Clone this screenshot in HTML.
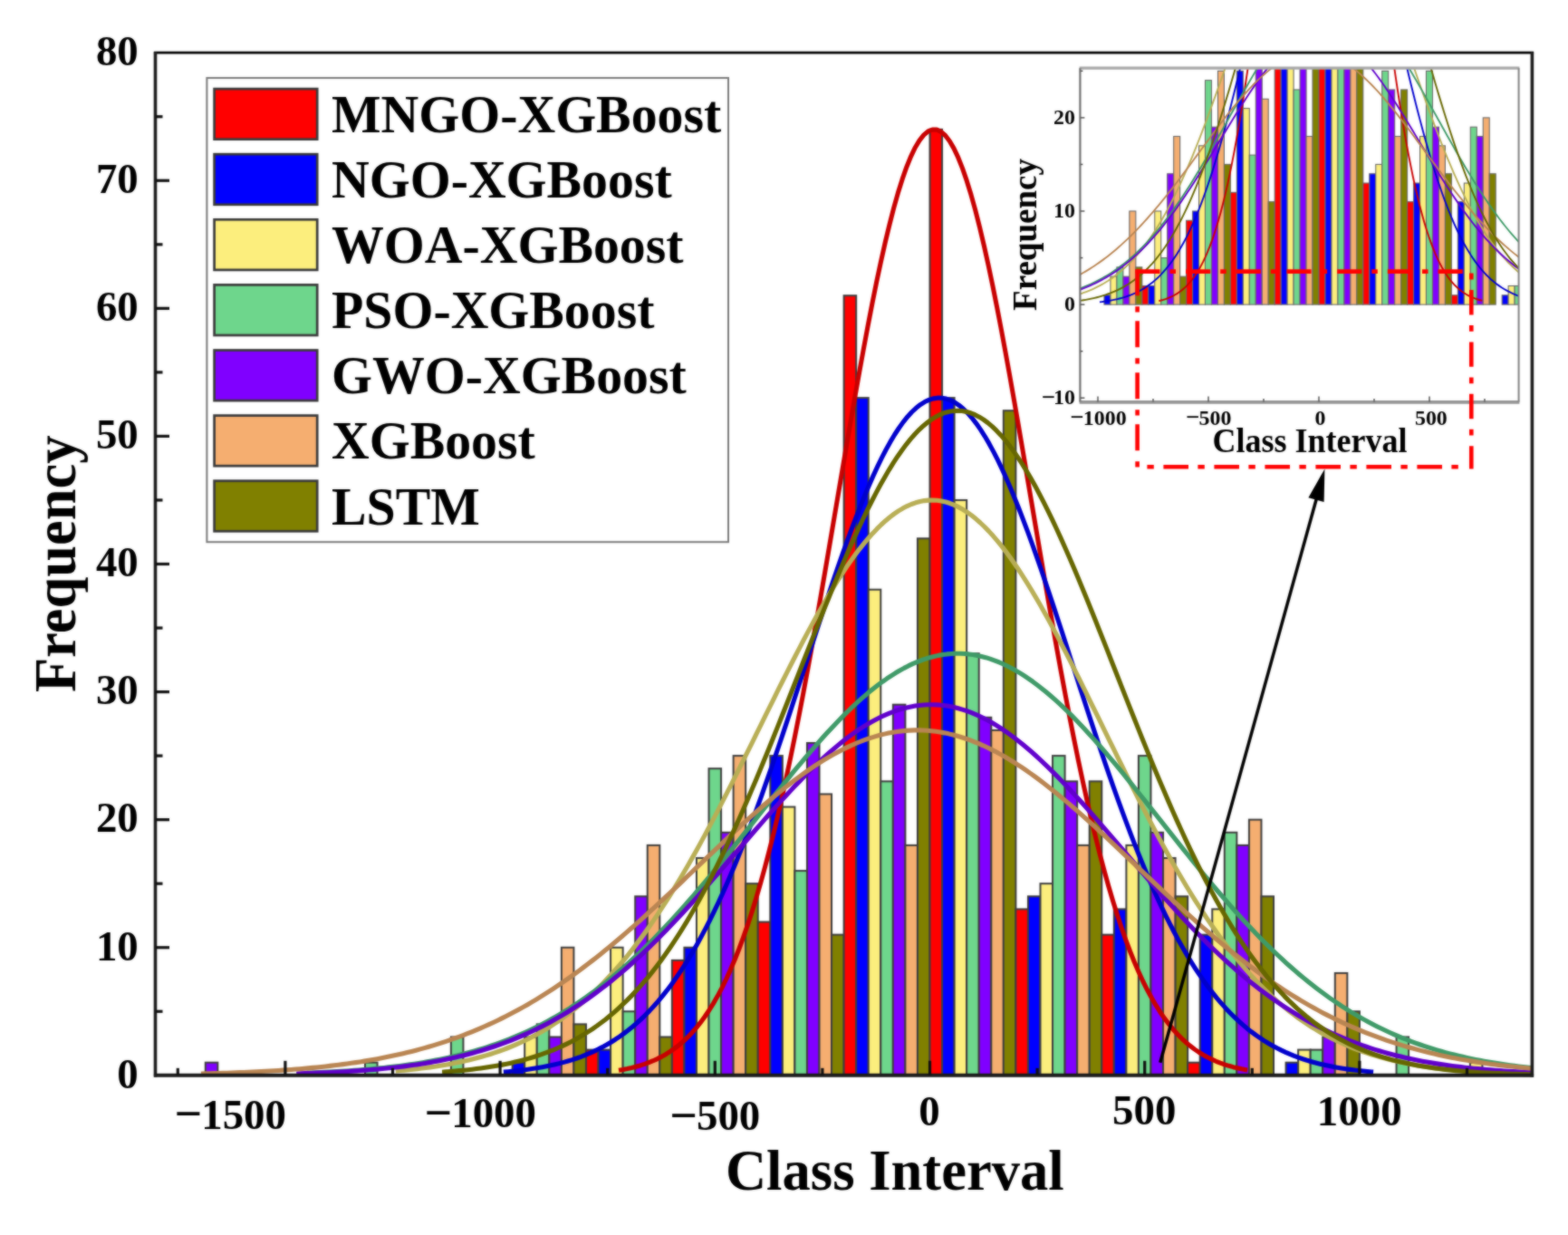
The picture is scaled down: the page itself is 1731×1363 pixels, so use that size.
<!DOCTYPE html>
<html lang="en"><head><meta charset="utf-8"><title>Frequency histogram of class intervals</title>
<style>
html,body{margin:0;padding:0;background:#fff;}
body{width:1731px;height:1363px;overflow:hidden;}
svg{display:block;}
text{font-family:"Liberation Serif",serif;font-weight:bold;fill:#000;}
</style></head><body>
<svg width="1731" height="1363" viewBox="0 0 1731 1363">
<defs>
<filter id="soft" x="-2%" y="-2%" width="104%" height="104%" color-interpolation-filters="sRGB"><feGaussianBlur in="SourceGraphic" stdDeviation="0.8" result="b"/><feComposite in="SourceGraphic" in2="b" operator="arithmetic" k1="0" k2="0.4" k3="0.6" k4="0"/></filter>
<clipPath id="mainclip"><rect x="171.5" y="58.2" width="1521.4" height="1130.6"/></clipPath>
<clipPath id="insclip"><rect x="1192.4" y="75.2" width="484.2" height="368.4"/></clipPath>
</defs>
<g id="figure" filter="url(#soft)">
<rect x="-20" y="-20" width="1771" height="1403" fill="#ffffff"/>

<g id="bars" stroke-linejoin="miter">
<rect x="226.80" y="1172.69" width="13.55" height="14.11" fill="#8000FF" stroke="#3e3e3e" stroke-width="2.0"/>
<rect x="403.00" y="1172.69" width="13.55" height="14.11" fill="#6ED68C" stroke="#3e3e3e" stroke-width="2.0"/>
<rect x="497.88" y="1144.48" width="13.55" height="42.32" fill="#6ED68C" stroke="#3e3e3e" stroke-width="2.0"/>
<rect x="565.65" y="1172.69" width="13.55" height="14.11" fill="#0000FF" stroke="#3e3e3e" stroke-width="2.0"/>
<rect x="579.21" y="1144.48" width="13.55" height="42.32" fill="#FCEE7D" stroke="#3e3e3e" stroke-width="2.0"/>
<rect x="592.76" y="1130.37" width="13.55" height="56.43" fill="#6ED68C" stroke="#3e3e3e" stroke-width="2.0"/>
<rect x="606.32" y="1144.48" width="13.55" height="42.32" fill="#8000FF" stroke="#3e3e3e" stroke-width="2.0"/>
<rect x="619.87" y="1045.72" width="13.55" height="141.08" fill="#F5AE70" stroke="#3e3e3e" stroke-width="2.0"/>
<rect x="633.43" y="1130.37" width="13.55" height="56.43" fill="#808000" stroke="#3e3e3e" stroke-width="2.0"/>
<rect x="646.98" y="1158.59" width="13.55" height="28.21" fill="#FF0000" stroke="#3e3e3e" stroke-width="2.0"/>
<rect x="660.53" y="1158.59" width="13.55" height="28.21" fill="#0000FF" stroke="#3e3e3e" stroke-width="2.0"/>
<rect x="674.09" y="1045.72" width="13.55" height="141.08" fill="#FCEE7D" stroke="#3e3e3e" stroke-width="2.0"/>
<rect x="687.64" y="1116.26" width="13.55" height="70.54" fill="#6ED68C" stroke="#3e3e3e" stroke-width="2.0"/>
<rect x="701.20" y="989.29" width="13.55" height="197.50" fill="#8000FF" stroke="#3e3e3e" stroke-width="2.0"/>
<rect x="714.75" y="932.87" width="13.55" height="253.93" fill="#F5AE70" stroke="#3e3e3e" stroke-width="2.0"/>
<rect x="728.31" y="1144.48" width="13.55" height="42.32" fill="#808000" stroke="#3e3e3e" stroke-width="2.0"/>
<rect x="741.86" y="1059.83" width="13.55" height="126.97" fill="#FF0000" stroke="#3e3e3e" stroke-width="2.0"/>
<rect x="755.41" y="1045.72" width="13.55" height="141.08" fill="#0000FF" stroke="#3e3e3e" stroke-width="2.0"/>
<rect x="768.97" y="946.97" width="13.55" height="239.83" fill="#FCEE7D" stroke="#3e3e3e" stroke-width="2.0"/>
<rect x="782.52" y="848.22" width="13.55" height="338.58" fill="#6ED68C" stroke="#3e3e3e" stroke-width="2.0"/>
<rect x="796.08" y="918.76" width="13.55" height="268.04" fill="#8000FF" stroke="#3e3e3e" stroke-width="2.0"/>
<rect x="809.63" y="834.11" width="13.55" height="352.69" fill="#F5AE70" stroke="#3e3e3e" stroke-width="2.0"/>
<rect x="823.19" y="975.19" width="13.55" height="211.61" fill="#808000" stroke="#3e3e3e" stroke-width="2.0"/>
<rect x="836.74" y="1017.51" width="13.55" height="169.29" fill="#FF0000" stroke="#3e3e3e" stroke-width="2.0"/>
<rect x="850.29" y="834.11" width="13.55" height="352.69" fill="#0000FF" stroke="#3e3e3e" stroke-width="2.0"/>
<rect x="863.85" y="890.54" width="13.55" height="296.26" fill="#FCEE7D" stroke="#3e3e3e" stroke-width="2.0"/>
<rect x="877.40" y="961.08" width="13.55" height="225.72" fill="#6ED68C" stroke="#3e3e3e" stroke-width="2.0"/>
<rect x="890.96" y="820.00" width="13.55" height="366.79" fill="#8000FF" stroke="#3e3e3e" stroke-width="2.0"/>
<rect x="904.51" y="876.43" width="13.55" height="310.37" fill="#F5AE70" stroke="#3e3e3e" stroke-width="2.0"/>
<rect x="918.07" y="1031.62" width="13.55" height="155.18" fill="#808000" stroke="#3e3e3e" stroke-width="2.0"/>
<rect x="931.62" y="326.24" width="13.55" height="860.56" fill="#FF0000" stroke="#3e3e3e" stroke-width="2.0"/>
<rect x="945.17" y="439.10" width="13.55" height="747.70" fill="#0000FF" stroke="#3e3e3e" stroke-width="2.0"/>
<rect x="958.73" y="650.72" width="13.55" height="536.08" fill="#FCEE7D" stroke="#3e3e3e" stroke-width="2.0"/>
<rect x="972.28" y="862.33" width="13.55" height="324.47" fill="#6ED68C" stroke="#3e3e3e" stroke-width="2.0"/>
<rect x="985.84" y="777.68" width="13.55" height="409.12" fill="#8000FF" stroke="#3e3e3e" stroke-width="2.0"/>
<rect x="999.39" y="932.87" width="13.55" height="253.93" fill="#F5AE70" stroke="#3e3e3e" stroke-width="2.0"/>
<rect x="1012.95" y="594.29" width="13.55" height="592.51" fill="#808000" stroke="#3e3e3e" stroke-width="2.0"/>
<rect x="1026.50" y="142.85" width="13.55" height="1043.95" fill="#FF0000" stroke="#3e3e3e" stroke-width="2.0"/>
<rect x="1040.05" y="439.10" width="13.55" height="747.70" fill="#0000FF" stroke="#3e3e3e" stroke-width="2.0"/>
<rect x="1053.61" y="551.96" width="13.55" height="634.84" fill="#FCEE7D" stroke="#3e3e3e" stroke-width="2.0"/>
<rect x="1067.16" y="721.25" width="13.55" height="465.55" fill="#6ED68C" stroke="#3e3e3e" stroke-width="2.0"/>
<rect x="1080.72" y="791.79" width="13.55" height="395.01" fill="#8000FF" stroke="#3e3e3e" stroke-width="2.0"/>
<rect x="1094.27" y="805.90" width="13.55" height="380.90" fill="#F5AE70" stroke="#3e3e3e" stroke-width="2.0"/>
<rect x="1107.83" y="453.21" width="13.55" height="733.59" fill="#808000" stroke="#3e3e3e" stroke-width="2.0"/>
<rect x="1121.38" y="1003.40" width="13.55" height="183.40" fill="#FF0000" stroke="#3e3e3e" stroke-width="2.0"/>
<rect x="1134.93" y="989.29" width="13.55" height="197.50" fill="#0000FF" stroke="#3e3e3e" stroke-width="2.0"/>
<rect x="1148.49" y="975.19" width="13.55" height="211.61" fill="#FCEE7D" stroke="#3e3e3e" stroke-width="2.0"/>
<rect x="1162.04" y="834.11" width="13.55" height="352.69" fill="#6ED68C" stroke="#3e3e3e" stroke-width="2.0"/>
<rect x="1175.60" y="862.33" width="13.55" height="324.47" fill="#8000FF" stroke="#3e3e3e" stroke-width="2.0"/>
<rect x="1189.15" y="932.87" width="13.55" height="253.93" fill="#F5AE70" stroke="#3e3e3e" stroke-width="2.0"/>
<rect x="1202.71" y="862.33" width="13.55" height="324.47" fill="#808000" stroke="#3e3e3e" stroke-width="2.0"/>
<rect x="1216.26" y="1031.62" width="13.55" height="155.18" fill="#FF0000" stroke="#3e3e3e" stroke-width="2.0"/>
<rect x="1229.81" y="1003.40" width="13.55" height="183.40" fill="#0000FF" stroke="#3e3e3e" stroke-width="2.0"/>
<rect x="1243.37" y="932.87" width="13.55" height="253.93" fill="#FCEE7D" stroke="#3e3e3e" stroke-width="2.0"/>
<rect x="1256.92" y="834.11" width="13.55" height="352.69" fill="#6ED68C" stroke="#3e3e3e" stroke-width="2.0"/>
<rect x="1270.48" y="918.76" width="13.55" height="268.04" fill="#8000FF" stroke="#3e3e3e" stroke-width="2.0"/>
<rect x="1284.03" y="946.97" width="13.55" height="239.83" fill="#F5AE70" stroke="#3e3e3e" stroke-width="2.0"/>
<rect x="1297.59" y="989.29" width="13.55" height="197.50" fill="#808000" stroke="#3e3e3e" stroke-width="2.0"/>
<rect x="1311.14" y="1172.69" width="13.55" height="14.11" fill="#FF0000" stroke="#3e3e3e" stroke-width="2.0"/>
<rect x="1324.69" y="1031.62" width="13.55" height="155.18" fill="#0000FF" stroke="#3e3e3e" stroke-width="2.0"/>
<rect x="1338.25" y="1003.40" width="13.55" height="183.40" fill="#FCEE7D" stroke="#3e3e3e" stroke-width="2.0"/>
<rect x="1351.80" y="918.76" width="13.55" height="268.04" fill="#6ED68C" stroke="#3e3e3e" stroke-width="2.0"/>
<rect x="1365.36" y="932.87" width="13.55" height="253.93" fill="#8000FF" stroke="#3e3e3e" stroke-width="2.0"/>
<rect x="1378.91" y="904.65" width="13.55" height="282.15" fill="#F5AE70" stroke="#3e3e3e" stroke-width="2.0"/>
<rect x="1392.47" y="989.29" width="13.55" height="197.50" fill="#808000" stroke="#3e3e3e" stroke-width="2.0"/>
<rect x="1419.57" y="1172.69" width="13.55" height="14.11" fill="#0000FF" stroke="#3e3e3e" stroke-width="2.0"/>
<rect x="1433.13" y="1158.59" width="13.55" height="28.21" fill="#FCEE7D" stroke="#3e3e3e" stroke-width="2.0"/>
<rect x="1446.68" y="1158.59" width="13.55" height="28.21" fill="#6ED68C" stroke="#3e3e3e" stroke-width="2.0"/>
<rect x="1460.24" y="1144.48" width="13.55" height="42.32" fill="#8000FF" stroke="#3e3e3e" stroke-width="2.0"/>
<rect x="1473.79" y="1073.94" width="13.55" height="112.86" fill="#F5AE70" stroke="#3e3e3e" stroke-width="2.0"/>
<rect x="1487.35" y="1116.26" width="13.55" height="70.54" fill="#808000" stroke="#3e3e3e" stroke-width="2.0"/>
<rect x="1541.56" y="1144.48" width="13.55" height="42.32" fill="#6ED68C" stroke="#3e3e3e" stroke-width="2.0"/>
<rect x="1622.89" y="1172.69" width="13.55" height="14.11" fill="#FCEE7D" stroke="#3e3e3e" stroke-width="2.0"/>
</g>
<g id="curves" fill="none" stroke-width="5.1" stroke-linecap="butt" stroke-linejoin="round" clip-path="url(#mainclip)">
<path d="M683.03,1181.36 L687.78,1180.53 L692.52,1179.58 L697.27,1178.51 L702.01,1177.30 L706.75,1175.93 L711.50,1174.40 L716.24,1172.67 L720.99,1170.73 L725.73,1168.56 L730.47,1166.14 L735.22,1163.44 L739.96,1160.44 L744.71,1157.12 L749.45,1153.44 L754.19,1149.38 L758.94,1144.90 L763.68,1139.99 L768.43,1134.59 L773.17,1128.69 L777.91,1122.25 L782.66,1115.23 L787.40,1107.61 L792.15,1099.34 L796.89,1090.40 L801.63,1080.75 L806.38,1070.36 L811.12,1059.21 L815.87,1047.25 L820.61,1034.48 L825.35,1020.86 L830.10,1006.37 L834.84,991.00 L839.59,974.74 L844.33,957.57 L849.07,939.49 L853.82,920.51 L858.56,900.62 L863.31,879.86 L868.05,858.22 L872.79,835.75 L877.54,812.47 L882.28,788.43 L887.03,763.66 L891.77,738.23 L896.51,712.20 L901.26,685.64 L906.00,658.62 L910.75,631.22 L915.49,603.55 L920.23,575.69 L924.98,547.74 L929.72,519.82 L934.47,492.03 L939.21,464.49 L943.95,437.33 L948.70,410.66 L953.44,384.60 L958.19,359.28 L962.93,334.83 L967.67,311.36 L972.42,289.00 L977.16,267.86 L981.91,248.05 L986.65,229.69 L991.39,212.86 L996.14,197.67 L1000.88,184.20 L1005.63,172.53 L1010.37,162.71 L1015.11,154.82 L1019.86,148.88 L1024.60,144.95 L1029.35,143.04 L1034.09,143.17 L1038.83,145.33 L1043.58,149.52 L1048.32,155.72 L1053.07,163.88 L1057.81,173.96 L1062.55,185.91 L1067.30,199.65 L1072.04,215.11 L1076.79,232.19 L1081.53,250.81 L1086.27,270.86 L1091.02,292.23 L1095.76,314.82 L1100.51,338.49 L1105.25,363.14 L1109.99,388.64 L1114.74,414.85 L1119.48,441.67 L1124.23,468.97 L1128.97,496.61 L1133.71,524.49 L1138.46,552.49 L1143.20,580.49 L1147.95,608.39 L1152.69,636.08 L1157.43,663.48 L1162.18,690.48 L1166.92,717.01 L1171.67,742.99 L1176.41,768.36 L1181.15,793.05 L1185.90,817.00 L1190.64,840.18 L1195.39,862.54 L1200.13,884.05 L1204.87,904.69 L1209.62,924.43 L1214.36,943.27 L1219.11,961.20 L1223.85,978.22 L1228.59,994.33 L1233.34,1009.55 L1238.08,1023.88 L1242.83,1037.34 L1247.57,1049.96 L1252.31,1061.76 L1257.06,1072.77 L1261.80,1083.01 L1266.55,1092.52 L1271.29,1101.32 L1276.03,1109.45 L1280.78,1116.95 L1285.52,1123.84 L1290.27,1130.16 L1295.01,1135.95 L1299.75,1141.24 L1304.50,1146.05 L1309.24,1150.43 L1313.99,1154.40 L1318.73,1158.00 L1323.47,1161.24 L1328.22,1164.17 L1332.96,1166.79 L1337.71,1169.15 L1342.45,1171.26 L1347.19,1173.15 L1351.94,1174.83 L1356.68,1176.32 L1361.43,1177.65 L1366.17,1178.82 L1370.91,1179.86 L1375.66,1180.77 L1377.08,1181.02" stroke="#C80000"/>
<path d="M555.90,1183.12 L560.64,1182.72 L565.38,1182.28 L570.13,1181.79 L574.87,1181.26 L579.62,1180.67 L584.36,1180.03 L589.10,1179.33 L593.85,1178.57 L598.59,1177.74 L603.34,1176.84 L608.08,1175.86 L612.82,1174.79 L617.57,1173.64 L622.31,1172.39 L627.06,1171.03 L631.80,1169.57 L636.54,1167.99 L641.29,1166.28 L646.03,1164.45 L650.78,1162.47 L655.52,1160.35 L660.26,1158.07 L665.01,1155.63 L669.75,1153.01 L674.50,1150.22 L679.24,1147.23 L683.98,1144.04 L688.73,1140.65 L693.47,1137.04 L698.22,1133.20 L702.96,1129.12 L707.70,1124.80 L712.45,1120.22 L717.19,1115.38 L721.94,1110.26 L726.68,1104.87 L731.42,1099.18 L736.17,1093.20 L740.91,1086.91 L745.66,1080.30 L750.40,1073.38 L755.14,1066.14 L759.89,1058.56 L764.63,1050.65 L769.38,1042.40 L774.12,1033.81 L778.86,1024.87 L783.61,1015.59 L788.35,1005.97 L793.10,996.00 L797.84,985.69 L802.58,975.04 L807.33,964.06 L812.07,952.75 L816.82,941.12 L821.56,929.18 L826.30,916.94 L831.05,904.41 L835.79,891.60 L840.54,878.53 L845.28,865.22 L850.02,851.67 L854.77,837.92 L859.51,823.98 L864.26,809.87 L869.00,795.62 L873.74,781.24 L878.49,766.78 L883.23,752.24 L887.98,737.67 L892.72,723.09 L897.46,708.53 L902.21,694.03 L906.95,679.61 L911.70,665.30 L916.44,651.15 L921.18,637.18 L925.93,623.43 L930.67,609.93 L935.42,596.72 L940.16,583.83 L944.90,571.30 L949.65,559.15 L954.39,547.43 L959.14,536.16 L963.88,525.37 L968.62,515.11 L973.37,505.38 L978.11,496.23 L982.86,487.68 L987.60,479.76 L992.34,472.49 L997.09,465.88 L1001.83,459.97 L1006.58,454.77 L1011.32,450.29 L1016.06,446.55 L1020.81,443.56 L1025.55,441.33 L1030.30,439.86 L1035.04,439.16 L1039.78,439.24 L1044.53,440.10 L1049.27,441.73 L1054.02,444.13 L1058.76,447.29 L1063.50,451.20 L1068.25,455.86 L1072.99,461.24 L1077.74,467.33 L1082.48,474.11 L1087.22,481.56 L1091.97,489.66 L1096.71,498.38 L1101.46,507.70 L1106.20,517.59 L1110.94,528.03 L1115.69,538.97 L1120.43,550.40 L1125.18,562.27 L1129.92,574.56 L1134.66,587.23 L1139.41,600.25 L1144.15,613.59 L1148.90,627.20 L1153.64,641.06 L1158.38,655.13 L1163.13,669.38 L1167.87,683.76 L1172.62,698.26 L1177.36,712.83 L1182.10,727.45 L1186.85,742.07 L1191.59,756.68 L1196.34,771.25 L1201.08,785.73 L1205.82,800.12 L1210.57,814.37 L1215.31,828.48 L1220.06,842.41 L1224.80,856.14 L1229.54,869.65 L1234.29,882.93 L1239.03,895.95 L1243.78,908.71 L1248.52,921.18 L1253.26,933.36 L1258.01,945.23 L1262.75,956.79 L1267.50,968.01 L1272.24,978.91 L1276.98,989.47 L1281.73,999.69 L1286.47,1009.56 L1291.22,1019.09 L1295.96,1028.27 L1300.70,1037.11 L1305.45,1045.59 L1310.19,1053.74 L1314.94,1061.55 L1319.68,1069.02 L1324.42,1076.16 L1329.17,1082.97 L1333.91,1089.47 L1338.66,1095.66 L1343.40,1101.54 L1348.14,1107.12 L1352.89,1112.42 L1357.63,1117.43 L1362.38,1122.18 L1367.12,1126.66 L1371.86,1130.89 L1376.61,1134.88 L1381.35,1138.63 L1386.10,1142.16 L1390.84,1145.47 L1395.58,1148.58 L1400.33,1151.49 L1405.07,1154.21 L1409.82,1156.76 L1414.56,1159.13 L1419.30,1161.34 L1424.05,1163.40 L1428.79,1165.32 L1433.54,1167.10 L1438.28,1168.75 L1443.02,1170.28 L1447.77,1171.69 L1452.51,1173.00 L1457.26,1174.21 L1462.00,1175.33 L1466.74,1176.35 L1471.49,1177.30 L1476.23,1178.17 L1480.98,1178.96 L1485.72,1179.69 L1490.46,1180.36 L1495.21,1180.98 L1499.95,1181.54 L1504.70,1182.05 L1509.44,1182.51 L1514.18,1182.94 L1516.08,1183.10" stroke="#0000CC"/>
<path d="M436.82,1181.92 L441.56,1181.52 L446.31,1181.10 L451.05,1180.64 L455.80,1180.16 L460.54,1179.64 L465.28,1179.09 L470.03,1178.50 L474.77,1177.86 L479.52,1177.19 L484.26,1176.47 L489.00,1175.71 L493.75,1174.89 L498.49,1174.03 L503.24,1173.11 L507.98,1172.13 L512.72,1171.09 L517.47,1169.99 L522.21,1168.83 L526.96,1167.59 L531.70,1166.28 L536.44,1164.90 L541.19,1163.44 L545.93,1161.90 L550.68,1160.27 L555.42,1158.56 L560.16,1156.75 L564.91,1154.84 L569.65,1152.84 L574.40,1150.73 L579.14,1148.52 L583.88,1146.20 L588.63,1143.76 L593.37,1141.20 L598.12,1138.52 L602.86,1135.72 L607.60,1132.79 L612.35,1129.73 L617.09,1126.52 L621.84,1123.18 L626.58,1119.70 L631.32,1116.07 L636.07,1112.29 L640.81,1108.36 L645.56,1104.27 L650.30,1100.02 L655.04,1095.61 L659.79,1091.04 L664.53,1086.30 L669.28,1081.39 L674.02,1076.31 L678.76,1071.06 L683.51,1065.63 L688.25,1060.03 L693.00,1054.26 L697.74,1048.30 L702.48,1042.17 L707.23,1035.86 L711.97,1029.38 L716.72,1022.72 L721.46,1015.88 L726.20,1008.88 L730.95,1001.70 L735.69,994.35 L740.44,986.83 L745.18,979.15 L749.92,971.31 L754.67,963.31 L759.41,955.16 L764.16,946.87 L768.90,938.43 L773.64,929.86 L778.39,921.15 L783.13,912.33 L787.88,903.38 L792.62,894.33 L797.36,885.18 L802.11,875.94 L806.85,866.61 L811.60,857.21 L816.34,847.74 L821.08,838.22 L825.83,828.66 L830.57,819.07 L835.32,809.45 L840.06,799.83 L844.80,790.20 L849.55,780.60 L854.29,771.01 L859.04,761.47 L863.78,751.99 L868.52,742.56 L873.27,733.22 L878.01,723.97 L882.76,714.83 L887.50,705.81 L892.24,696.92 L896.99,688.17 L901.73,679.59 L906.48,671.19 L911.22,662.97 L915.96,654.95 L920.71,647.15 L925.45,639.58 L930.20,632.24 L934.94,625.16 L939.68,618.35 L944.43,611.81 L949.17,605.56 L953.92,599.61 L958.66,593.96 L963.40,588.64 L968.15,583.65 L972.89,578.99 L977.64,574.69 L982.38,570.73 L987.12,567.14 L991.87,563.92 L996.61,561.07 L1001.36,558.60 L1006.10,556.52 L1010.84,554.82 L1015.59,553.52 L1020.33,552.60 L1025.08,552.09 L1029.82,551.97 L1034.56,552.25 L1039.31,552.94 L1044.05,554.02 L1048.80,555.51 L1053.54,557.38 L1058.28,559.66 L1063.03,562.32 L1067.77,565.36 L1072.52,568.78 L1077.26,572.57 L1082.00,576.73 L1086.75,581.24 L1091.49,586.10 L1096.24,591.30 L1100.98,596.83 L1105.72,602.68 L1110.47,608.83 L1115.21,615.29 L1119.96,622.03 L1124.70,629.04 L1129.44,636.32 L1134.19,643.85 L1138.93,651.61 L1143.68,659.60 L1148.42,667.80 L1153.16,676.19 L1157.91,684.77 L1162.65,693.52 L1167.40,702.42 L1172.14,711.46 L1176.88,720.63 L1181.63,729.91 L1186.37,739.29 L1191.12,748.76 L1195.86,758.30 L1200.60,767.90 L1205.35,777.54 L1210.09,787.21 L1214.84,796.90 L1219.58,806.60 L1224.32,816.29 L1229.07,825.97 L1233.81,835.61 L1238.56,845.22 L1243.30,854.77 L1248.04,864.26 L1252.79,873.67 L1257.53,883.01 L1262.28,892.25 L1267.02,901.39 L1271.76,910.43 L1276.51,919.35 L1281.25,928.14 L1286.00,936.81 L1290.74,945.34 L1295.48,953.72 L1300.23,961.96 L1304.97,970.04 L1309.72,977.96 L1314.46,985.73 L1319.20,993.32 L1323.95,1000.75 L1328.69,1008.01 L1333.44,1015.09 L1338.18,1021.99 L1342.92,1028.72 L1347.67,1035.27 L1352.41,1041.64 L1357.16,1047.84 L1361.90,1053.85 L1366.64,1059.68 L1371.39,1065.33 L1376.13,1070.81 L1380.88,1076.11 L1385.62,1081.23 L1390.36,1086.18 L1395.11,1090.96 L1399.85,1095.57 L1404.60,1100.02 L1409.34,1104.29 L1414.08,1108.41 L1418.83,1112.37 L1423.57,1116.18 L1428.32,1119.83 L1433.06,1123.33 L1437.80,1126.69 L1442.55,1129.91 L1447.29,1132.99 L1452.04,1135.93 L1456.78,1138.75 L1461.52,1141.44 L1466.27,1144.00 L1471.01,1146.44 L1475.76,1148.77 L1480.50,1150.99 L1485.24,1153.10 L1489.99,1155.11 L1494.73,1157.01 L1499.48,1158.82 L1504.22,1160.53 L1508.96,1162.16 L1513.71,1163.70 L1518.45,1165.16 L1523.20,1166.54 L1527.94,1167.84 L1532.68,1169.07 L1537.43,1170.23 L1542.17,1171.32 L1546.92,1172.35 L1551.66,1173.33 L1556.40,1174.24 L1561.15,1175.10 L1565.89,1175.91 L1570.64,1176.66 L1575.38,1177.38 L1580.12,1178.04 L1584.87,1178.67 L1589.61,1179.25 L1594.36,1179.80 L1599.10,1180.31 L1603.84,1180.79 L1608.59,1181.24 L1613.33,1181.65 L1618.08,1182.04 L1622.82,1182.40 L1627.56,1182.74 L1632.31,1183.05 L1637.05,1183.35 L1641.80,1183.62 L1646.54,1183.87 L1651.28,1184.10 L1656.03,1184.32 L1660.77,1184.52 L1665.52,1184.70 L1670.26,1184.88 L1675.00,1185.03 L1679.75,1185.18 L1684.49,1185.32 L1689.24,1185.44 L1693.98,1185.56 L1698.72,1185.66 L1703.47,1185.76 L1708.21,1185.85 L1712.96,1185.93 L1717.70,1186.01 L1722.44,1186.08 L1727.19,1186.14 L1731.93,1186.20 L1736.68,1186.26 L1738.10,1186.27" stroke="#B8AE55"/>
<path d="M338.62,1184.16 L343.36,1183.98 L348.11,1183.78 L352.85,1183.57 L357.60,1183.35 L362.34,1183.11 L367.08,1182.86 L371.83,1182.59 L376.57,1182.31 L381.32,1182.01 L386.06,1181.69 L390.80,1181.36 L395.55,1181.00 L400.29,1180.63 L405.04,1180.23 L409.78,1179.82 L414.52,1179.37 L419.27,1178.91 L424.01,1178.42 L428.76,1177.90 L433.50,1177.35 L438.24,1176.78 L442.99,1176.17 L447.73,1175.54 L452.48,1174.87 L457.22,1174.16 L461.96,1173.43 L466.71,1172.65 L471.45,1171.84 L476.20,1170.98 L480.94,1170.09 L485.68,1169.15 L490.43,1168.17 L495.17,1167.15 L499.92,1166.07 L504.66,1164.95 L509.40,1163.78 L514.15,1162.55 L518.89,1161.27 L523.64,1159.94 L528.38,1158.55 L533.12,1157.10 L537.87,1155.59 L542.61,1154.02 L547.36,1152.38 L552.10,1150.68 L556.84,1148.91 L561.59,1147.08 L566.33,1145.17 L571.08,1143.19 L575.82,1141.14 L580.56,1139.01 L585.31,1136.81 L590.05,1134.53 L594.80,1132.17 L599.54,1129.73 L604.28,1127.20 L609.03,1124.59 L613.77,1121.90 L618.52,1119.12 L623.26,1116.26 L628.00,1113.30 L632.75,1110.26 L637.49,1107.13 L642.24,1103.90 L646.98,1100.59 L651.72,1097.18 L656.47,1093.68 L661.21,1090.09 L665.96,1086.40 L670.70,1082.62 L675.44,1078.74 L680.19,1074.78 L684.93,1070.71 L689.68,1066.56 L694.42,1062.31 L699.16,1057.98 L703.91,1053.55 L708.65,1049.03 L713.40,1044.42 L718.14,1039.72 L722.88,1034.94 L727.63,1030.07 L732.37,1025.12 L737.12,1020.08 L741.86,1014.97 L746.60,1009.78 L751.35,1004.52 L756.09,999.18 L760.84,993.78 L765.58,988.31 L770.32,982.77 L775.07,977.18 L779.81,971.53 L784.56,965.83 L789.30,960.08 L794.04,954.28 L798.79,948.45 L803.53,942.57 L808.28,936.67 L813.02,930.73 L817.76,924.78 L822.51,918.81 L827.25,912.82 L832.00,906.83 L836.74,900.83 L841.48,894.84 L846.23,888.86 L850.97,882.89 L855.72,876.94 L860.46,871.02 L865.20,865.13 L869.95,859.28 L874.69,853.47 L879.44,847.71 L884.18,842.01 L888.92,836.37 L893.67,830.79 L898.41,825.30 L903.16,819.88 L907.90,814.55 L912.64,809.31 L917.39,804.17 L922.13,799.13 L926.88,794.21 L931.62,789.40 L936.36,784.72 L941.11,780.16 L945.85,775.74 L950.60,771.45 L955.34,767.31 L960.08,763.32 L964.83,759.49 L969.57,755.81 L974.32,752.30 L979.06,748.96 L983.80,745.79 L988.55,742.80 L993.29,739.99 L998.04,737.36 L1002.78,734.92 L1007.52,732.68 L1012.27,730.63 L1017.01,728.77 L1021.76,727.12 L1026.50,725.66 L1031.24,724.42 L1035.99,723.37 L1040.73,722.54 L1045.48,721.91 L1050.22,721.49 L1054.96,721.28 L1059.71,721.28 L1064.45,721.49 L1069.20,721.91 L1073.94,722.54 L1078.68,723.38 L1083.43,724.43 L1088.17,725.68 L1092.92,727.14 L1097.66,728.80 L1102.40,730.67 L1107.15,732.73 L1111.89,734.98 L1116.64,737.43 L1121.38,740.07 L1126.12,742.89 L1130.87,745.89 L1135.61,749.07 L1140.36,752.43 L1145.10,755.96 L1149.84,759.65 L1154.59,763.50 L1159.33,767.50 L1164.08,771.66 L1168.82,775.96 L1173.56,780.40 L1178.31,784.97 L1183.05,789.67 L1187.80,794.50 L1192.54,799.44 L1197.28,804.49 L1202.03,809.65 L1206.77,814.90 L1211.52,820.25 L1216.26,825.68 L1221.00,831.20 L1225.75,836.79 L1230.49,842.45 L1235.24,848.17 L1239.98,853.94 L1244.72,859.77 L1249.47,865.64 L1254.21,871.54 L1258.96,877.48 L1263.70,883.44 L1268.44,889.43 L1273.19,895.42 L1277.93,901.43 L1282.68,907.43 L1287.42,913.44 L1292.16,919.44 L1296.91,925.42 L1301.65,931.39 L1306.40,937.33 L1311.14,943.24 L1315.88,949.12 L1320.63,954.97 L1325.37,960.77 L1330.12,966.53 L1334.86,972.24 L1339.60,977.89 L1344.35,983.49 L1349.09,989.03 L1353.84,994.50 L1358.58,999.91 L1363.32,1005.25 L1368.07,1010.51 L1372.81,1015.70 L1377.56,1020.81 L1382.30,1025.84 L1387.04,1030.79 L1391.79,1035.66 L1396.53,1040.44 L1401.28,1045.13 L1406.02,1049.74 L1410.76,1054.25 L1415.51,1058.68 L1420.25,1063.01 L1425.00,1067.25 L1429.74,1071.40 L1434.48,1075.45 L1439.23,1079.41 L1443.97,1083.28 L1448.72,1087.05 L1453.46,1090.73 L1458.20,1094.32 L1462.95,1097.81 L1467.69,1101.20 L1472.44,1104.51 L1477.18,1107.72 L1481.92,1110.85 L1486.67,1113.88 L1491.41,1116.82 L1496.16,1119.68 L1500.90,1122.44 L1505.64,1125.12 L1510.39,1127.72 L1515.13,1130.23 L1519.88,1132.66 L1524.62,1135.01 L1529.36,1137.28 L1534.11,1139.47 L1538.85,1141.59 L1543.60,1143.63 L1548.34,1145.60 L1553.08,1147.49 L1557.83,1149.32 L1562.57,1151.07 L1567.32,1152.76 L1572.06,1154.39 L1576.80,1155.95 L1581.55,1157.44 L1586.29,1158.88 L1591.04,1160.26 L1595.78,1161.59 L1600.52,1162.86 L1605.27,1164.07 L1610.01,1165.23 L1614.76,1166.35 L1619.50,1167.41 L1624.24,1168.43 L1628.99,1169.40 L1633.73,1170.33 L1638.48,1171.21 L1643.22,1172.05 L1647.96,1172.86 L1652.71,1173.63 L1657.45,1174.36 L1662.20,1175.05 L1666.94,1175.71 L1671.68,1176.34 L1676.43,1176.94 L1681.17,1177.51 L1685.92,1178.05 L1690.66,1178.56 L1695.40,1179.04 L1700.15,1179.50 L1704.89,1179.94 L1709.64,1180.35 L1714.38,1180.74 L1719.12,1181.11 L1723.87,1181.46 L1728.61,1181.79 L1733.36,1182.10 L1738.10,1182.40" stroke="#3F9A68"/>
<path d="M327.23,1184.93 L331.98,1184.79 L336.72,1184.64 L341.47,1184.47 L346.21,1184.30 L350.95,1184.12 L355.70,1183.92 L360.44,1183.72 L365.19,1183.50 L369.93,1183.26 L374.67,1183.01 L379.42,1182.74 L384.16,1182.46 L388.91,1182.16 L393.65,1181.85 L398.39,1181.51 L403.14,1181.15 L407.88,1180.77 L412.63,1180.37 L417.37,1179.95 L422.11,1179.50 L426.86,1179.03 L431.60,1178.53 L436.35,1178.00 L441.09,1177.45 L445.83,1176.86 L450.58,1176.24 L455.32,1175.59 L460.07,1174.90 L464.81,1174.18 L469.55,1173.42 L474.30,1172.63 L479.04,1171.79 L483.79,1170.91 L488.53,1169.99 L493.27,1169.02 L498.02,1168.01 L502.76,1166.95 L507.51,1165.84 L512.25,1164.68 L516.99,1163.46 L521.74,1162.20 L526.48,1160.87 L531.23,1159.49 L535.97,1158.05 L540.71,1156.54 L545.46,1154.98 L550.20,1153.35 L554.95,1151.65 L559.69,1149.88 L564.43,1148.05 L569.18,1146.14 L573.92,1144.17 L578.67,1142.11 L583.41,1139.99 L588.15,1137.78 L592.90,1135.50 L597.64,1133.13 L602.39,1130.69 L607.13,1128.16 L611.87,1125.55 L616.62,1122.86 L621.36,1120.08 L626.11,1117.21 L630.85,1114.26 L635.59,1111.21 L640.34,1108.08 L645.08,1104.86 L649.83,1101.55 L654.57,1098.15 L659.31,1094.66 L664.06,1091.08 L668.80,1087.41 L673.55,1083.65 L678.29,1079.80 L683.03,1075.86 L687.78,1071.83 L692.52,1067.72 L697.27,1063.52 L702.01,1059.23 L706.75,1054.86 L711.50,1050.41 L716.24,1045.88 L720.99,1041.27 L725.73,1036.58 L730.47,1031.82 L735.22,1026.98 L739.96,1022.08 L744.71,1017.11 L749.45,1012.07 L754.19,1006.98 L758.94,1001.83 L763.68,996.62 L768.43,991.37 L773.17,986.07 L777.91,980.72 L782.66,975.34 L787.40,969.93 L792.15,964.48 L796.89,959.02 L801.63,953.53 L806.38,948.03 L811.12,942.52 L815.87,937.00 L820.61,931.49 L825.35,925.99 L830.10,920.49 L834.84,915.02 L839.59,909.57 L844.33,904.15 L849.07,898.77 L853.82,893.43 L858.56,888.14 L863.31,882.90 L868.05,877.72 L872.79,872.62 L877.54,867.58 L882.28,862.62 L887.03,857.75 L891.77,852.97 L896.51,848.29 L901.26,843.71 L906.00,839.25 L910.75,834.89 L915.49,830.66 L920.23,826.56 L924.98,822.59 L929.72,818.76 L934.47,815.07 L939.21,811.52 L943.95,808.14 L948.70,804.91 L953.44,801.84 L958.19,798.94 L962.93,796.21 L967.67,793.66 L972.42,791.28 L977.16,789.09 L981.91,787.08 L986.65,785.26 L991.39,783.63 L996.14,782.19 L1000.88,780.95 L1005.63,779.91 L1010.37,779.06 L1015.11,778.42 L1019.86,777.97 L1024.60,777.73 L1029.35,777.69 L1034.09,777.86 L1038.83,778.22 L1043.58,778.79 L1048.32,779.57 L1053.07,780.54 L1057.81,781.72 L1062.55,783.09 L1067.30,784.66 L1072.04,786.42 L1076.79,788.38 L1081.53,790.52 L1086.27,792.85 L1091.02,795.36 L1095.76,798.05 L1100.51,800.91 L1105.25,803.94 L1109.99,807.14 L1114.74,810.50 L1119.48,814.02 L1124.23,817.68 L1128.97,821.50 L1133.71,825.45 L1138.46,829.54 L1143.20,833.76 L1147.95,838.11 L1152.69,842.57 L1157.43,847.15 L1162.18,851.83 L1166.92,856.61 L1171.67,861.49 L1176.41,866.46 L1181.15,871.50 L1185.90,876.63 L1190.64,881.82 L1195.39,887.07 L1200.13,892.38 L1204.87,897.74 L1209.62,903.15 L1214.36,908.59 L1219.11,914.07 L1223.85,919.57 L1228.59,925.09 L1233.34,930.62 L1238.08,936.16 L1242.83,941.71 L1247.57,947.25 L1252.31,952.78 L1257.06,958.30 L1261.80,963.80 L1266.55,969.28 L1271.29,974.73 L1276.03,980.14 L1280.78,985.52 L1285.52,990.86 L1290.27,996.15 L1295.01,1001.39 L1299.75,1006.57 L1304.50,1011.70 L1309.24,1016.76 L1313.99,1021.77 L1318.73,1026.70 L1323.47,1031.57 L1328.22,1036.36 L1332.96,1041.08 L1337.71,1045.72 L1342.45,1050.28 L1347.19,1054.76 L1351.94,1059.15 L1356.68,1063.46 L1361.43,1067.69 L1366.17,1071.83 L1370.91,1075.88 L1375.66,1079.84 L1380.40,1083.71 L1385.15,1087.49 L1389.89,1091.17 L1394.63,1094.77 L1399.38,1098.28 L1404.12,1101.69 L1408.87,1105.02 L1413.61,1108.25 L1418.35,1111.40 L1423.10,1114.45 L1427.84,1117.42 L1432.59,1120.29 L1437.33,1123.08 L1442.07,1125.79 L1446.82,1128.40 L1451.56,1130.94 L1456.31,1133.39 L1461.05,1135.75 L1465.79,1138.04 L1470.54,1140.25 L1475.28,1142.38 L1480.03,1144.43 L1484.77,1146.41 L1489.51,1148.32 L1494.26,1150.15 L1499.00,1151.92 L1503.75,1153.61 L1508.49,1155.24 L1513.23,1156.81 L1517.98,1158.31 L1522.72,1159.75 L1527.47,1161.12 L1532.21,1162.45 L1536.95,1163.71 L1541.70,1164.92 L1546.44,1166.08 L1551.19,1167.18 L1555.93,1168.24 L1560.67,1169.25 L1565.42,1170.21 L1570.16,1171.13 L1574.91,1172.00 L1579.65,1172.83 L1584.39,1173.62 L1589.14,1174.37 L1593.88,1175.09 L1598.63,1175.77 L1603.37,1176.42 L1608.11,1177.03 L1612.86,1177.61 L1617.60,1178.16 L1622.35,1178.68 L1627.09,1179.18 L1631.83,1179.64 L1636.58,1180.09 L1641.32,1180.51 L1646.07,1180.90 L1650.81,1181.27 L1655.55,1181.63 L1660.30,1181.96 L1665.04,1182.27 L1669.79,1182.57 L1674.53,1182.84 L1679.27,1183.10 L1684.02,1183.35 L1688.76,1183.58 L1693.51,1183.80 L1698.25,1184.00 L1702.99,1184.19 L1707.74,1184.37 L1712.48,1184.54 L1717.23,1184.70 L1721.97,1184.85 L1726.71,1184.98 L1731.46,1185.11 L1736.20,1185.23 L1738.10,1185.28" stroke="#6000CC"/>
<path d="M221.92,1185.00 L226.66,1184.88 L231.41,1184.76 L236.15,1184.62 L240.89,1184.48 L245.64,1184.33 L250.38,1184.18 L255.13,1184.01 L259.87,1183.83 L264.61,1183.64 L269.36,1183.45 L274.10,1183.24 L278.85,1183.02 L283.59,1182.79 L288.33,1182.54 L293.08,1182.29 L297.82,1182.02 L302.57,1181.73 L307.31,1181.43 L312.05,1181.11 L316.80,1180.78 L321.54,1180.43 L326.29,1180.07 L331.03,1179.68 L335.77,1179.28 L340.52,1178.85 L345.26,1178.41 L350.01,1177.94 L354.75,1177.45 L359.49,1176.94 L364.24,1176.40 L368.98,1175.84 L373.73,1175.26 L378.47,1174.64 L383.21,1174.00 L387.96,1173.33 L392.70,1172.63 L397.45,1171.90 L402.19,1171.14 L406.93,1170.35 L411.68,1169.52 L416.42,1168.66 L421.17,1167.76 L425.91,1166.83 L430.65,1165.86 L435.40,1164.85 L440.14,1163.80 L444.89,1162.71 L449.63,1161.57 L454.37,1160.40 L459.12,1159.17 L463.86,1157.91 L468.61,1156.60 L473.35,1155.24 L478.09,1153.83 L482.84,1152.37 L487.58,1150.86 L492.33,1149.30 L497.07,1147.69 L501.81,1146.02 L506.56,1144.30 L511.30,1142.52 L516.05,1140.69 L520.79,1138.80 L525.53,1136.85 L530.28,1134.84 L535.02,1132.78 L539.77,1130.65 L544.51,1128.46 L549.25,1126.21 L554.00,1123.89 L558.74,1121.52 L563.49,1119.08 L568.23,1116.57 L572.97,1114.00 L577.72,1111.37 L582.46,1108.67 L587.21,1105.90 L591.95,1103.07 L596.69,1100.18 L601.44,1097.21 L606.18,1094.19 L610.93,1091.09 L615.67,1087.94 L620.41,1084.71 L625.16,1081.43 L629.90,1078.08 L634.65,1074.66 L639.39,1071.19 L644.13,1067.65 L648.88,1064.05 L653.62,1060.39 L658.37,1056.67 L663.11,1052.90 L667.85,1049.06 L672.60,1045.18 L677.34,1041.24 L682.09,1037.24 L686.83,1033.20 L691.57,1029.11 L696.32,1024.97 L701.06,1020.79 L705.81,1016.57 L710.55,1012.30 L715.29,1008.00 L720.04,1003.66 L724.78,999.29 L729.53,994.89 L734.27,990.46 L739.01,986.01 L743.76,981.54 L748.50,977.04 L753.25,972.54 L757.99,968.01 L762.73,963.48 L767.48,958.95 L772.22,954.41 L776.97,949.87 L781.71,945.34 L786.45,940.81 L791.20,936.30 L795.94,931.80 L800.69,927.33 L805.43,922.87 L810.17,918.44 L814.92,914.05 L819.66,909.69 L824.41,905.36 L829.15,901.08 L833.89,896.85 L838.64,892.67 L843.38,888.54 L848.13,884.47 L852.87,880.47 L857.61,876.53 L862.36,872.66 L867.10,868.87 L871.85,865.15 L876.59,861.52 L881.33,857.97 L886.08,854.52 L890.82,851.15 L895.57,847.88 L900.31,844.72 L905.05,841.65 L909.80,838.70 L914.54,835.85 L919.29,833.12 L924.03,830.50 L928.77,828.00 L933.52,825.62 L938.26,823.37 L943.01,821.25 L947.75,819.25 L952.49,817.39 L957.24,815.66 L961.98,814.07 L966.73,812.61 L971.47,811.30 L976.21,810.12 L980.96,809.09 L985.70,808.20 L990.45,807.45 L995.19,806.85 L999.93,806.39 L1004.68,806.09 L1009.42,805.92 L1014.17,805.91 L1018.91,806.04 L1023.65,806.32 L1028.40,806.74 L1033.14,807.31 L1037.89,808.02 L1042.63,808.87 L1047.37,809.87 L1052.12,811.01 L1056.86,812.29 L1061.61,813.71 L1066.35,815.26 L1071.09,816.95 L1075.84,818.77 L1080.58,820.73 L1085.33,822.81 L1090.07,825.02 L1094.81,827.35 L1099.56,829.81 L1104.30,832.38 L1109.05,835.07 L1113.79,837.88 L1118.53,840.79 L1123.28,843.81 L1128.02,846.94 L1132.77,850.16 L1137.51,853.48 L1142.25,856.90 L1147.00,860.41 L1151.74,864.00 L1156.49,867.67 L1161.23,871.43 L1165.97,875.26 L1170.72,879.16 L1175.46,883.13 L1180.21,887.16 L1184.95,891.25 L1189.69,895.40 L1194.44,899.60 L1199.18,903.84 L1203.93,908.13 L1208.67,912.46 L1213.41,916.83 L1218.16,921.23 L1222.90,925.66 L1227.65,930.11 L1232.39,934.58 L1237.13,939.07 L1241.88,943.58 L1246.62,948.09 L1251.37,952.61 L1256.11,957.13 L1260.85,961.65 L1265.60,966.16 L1270.34,970.67 L1275.09,975.17 L1279.83,979.65 L1284.57,984.11 L1289.32,988.56 L1294.06,992.98 L1298.81,997.38 L1303.55,1001.74 L1308.29,1006.08 L1313.04,1010.38 L1317.78,1014.64 L1322.53,1018.87 L1327.27,1023.06 L1332.01,1027.20 L1336.76,1031.29 L1341.50,1035.34 L1346.25,1039.34 L1350.99,1043.29 L1355.73,1047.19 L1360.48,1051.04 L1365.22,1054.82 L1369.97,1058.56 L1374.71,1062.23 L1379.45,1065.84 L1384.20,1069.40 L1388.94,1072.89 L1393.69,1076.33 L1398.43,1079.70 L1403.17,1083.00 L1407.92,1086.25 L1412.66,1089.43 L1417.41,1092.54 L1422.15,1095.59 L1426.89,1098.58 L1431.64,1101.50 L1436.38,1104.35 L1441.13,1107.14 L1445.87,1109.87 L1450.61,1112.53 L1455.36,1115.13 L1460.10,1117.66 L1464.85,1120.12 L1469.59,1122.53 L1474.33,1124.87 L1479.08,1127.15 L1483.82,1129.37 L1488.57,1131.52 L1493.31,1133.62 L1498.05,1135.65 L1502.80,1137.63 L1507.54,1139.55 L1512.29,1141.41 L1517.03,1143.21 L1521.77,1144.96 L1526.52,1146.65 L1531.26,1148.29 L1536.01,1149.88 L1540.75,1151.42 L1545.49,1152.90 L1550.24,1154.33 L1554.98,1155.72 L1559.73,1157.06 L1564.47,1158.35 L1569.21,1159.60 L1573.96,1160.80 L1578.70,1161.95 L1583.45,1163.07 L1588.19,1164.14 L1592.93,1165.18 L1597.68,1166.17 L1602.42,1167.13 L1607.17,1168.05 L1611.91,1168.93 L1616.65,1169.78 L1621.40,1170.59 L1626.14,1171.37 L1630.89,1172.12 L1635.63,1172.84 L1640.37,1173.52 L1645.12,1174.18 L1649.86,1174.81 L1654.61,1175.42 L1659.35,1175.99 L1664.09,1176.55 L1668.84,1177.07 L1673.58,1177.58 L1678.33,1178.06 L1683.07,1178.52 L1687.81,1178.96 L1692.56,1179.37 L1697.30,1179.77 L1702.05,1180.15 L1706.79,1180.51 L1711.53,1180.86 L1716.28,1181.18 L1721.02,1181.50 L1725.77,1181.79 L1730.51,1182.07 L1735.25,1182.34 L1738.10,1182.49" stroke="#B98552"/>
<path d="M488.06,1183.17 L492.80,1182.83 L497.54,1182.47 L502.29,1182.08 L507.03,1181.65 L511.78,1181.20 L516.52,1180.70 L521.26,1180.17 L526.01,1179.59 L530.75,1178.98 L535.50,1178.31 L540.24,1177.60 L544.98,1176.83 L549.73,1176.01 L554.47,1175.13 L559.22,1174.18 L563.96,1173.17 L568.70,1172.09 L573.45,1170.93 L578.19,1169.70 L582.94,1168.38 L587.68,1166.98 L592.42,1165.49 L597.17,1163.90 L601.91,1162.21 L606.66,1160.41 L611.40,1158.51 L616.14,1156.49 L620.89,1154.35 L625.63,1152.08 L630.38,1149.69 L635.12,1147.15 L639.86,1144.48 L644.61,1141.66 L649.35,1138.68 L654.10,1135.55 L658.84,1132.26 L663.58,1128.79 L668.33,1125.15 L673.07,1121.33 L677.82,1117.33 L682.56,1113.13 L687.30,1108.74 L692.05,1104.15 L696.79,1099.36 L701.54,1094.35 L706.28,1089.13 L711.02,1083.69 L715.77,1078.03 L720.51,1072.14 L725.26,1066.02 L730.00,1059.67 L734.74,1053.08 L739.49,1046.26 L744.23,1039.20 L748.98,1031.89 L753.72,1024.35 L758.46,1016.56 L763.21,1008.53 L767.95,1000.27 L772.70,991.76 L777.44,983.01 L782.18,974.03 L786.93,964.82 L791.67,955.38 L796.42,945.72 L801.16,935.83 L805.90,925.74 L810.65,915.44 L815.39,904.94 L820.14,894.26 L824.88,883.39 L829.62,872.35 L834.37,861.15 L839.11,849.80 L843.86,838.31 L848.60,826.69 L853.34,814.96 L858.09,803.14 L862.83,791.23 L867.58,779.25 L872.32,767.22 L877.06,755.15 L881.81,743.06 L886.55,730.98 L891.30,718.90 L896.04,706.87 L900.78,694.88 L905.53,682.97 L910.27,671.15 L915.02,659.45 L919.76,647.87 L924.50,636.45 L929.25,625.20 L933.99,614.15 L938.74,603.30 L943.48,592.70 L948.22,582.34 L952.97,572.26 L957.71,562.47 L962.46,553.00 L967.20,543.85 L971.94,535.06 L976.69,526.63 L981.43,518.58 L986.18,510.94 L990.92,503.72 L995.66,496.93 L1000.41,490.58 L1005.15,484.69 L1009.90,479.28 L1014.64,474.35 L1019.38,469.92 L1024.13,465.99 L1028.87,462.58 L1033.62,459.68 L1038.36,457.32 L1043.10,455.48 L1047.85,454.19 L1052.59,453.43 L1057.34,453.21 L1062.08,453.54 L1066.82,454.40 L1071.57,455.79 L1076.31,457.72 L1081.06,460.18 L1085.80,463.17 L1090.54,466.66 L1095.29,470.67 L1100.03,475.18 L1104.78,480.18 L1109.52,485.66 L1114.26,491.61 L1119.01,498.01 L1123.75,504.86 L1128.50,512.13 L1133.24,519.82 L1137.98,527.90 L1142.73,536.36 L1147.47,545.19 L1152.22,554.36 L1156.96,563.85 L1161.70,573.66 L1166.45,583.75 L1171.19,594.11 L1175.94,604.72 L1180.68,615.56 L1185.42,626.62 L1190.17,637.86 L1194.91,649.27 L1199.66,660.83 L1204.40,672.51 L1209.14,684.31 L1213.89,696.20 L1218.63,708.16 L1223.38,720.17 L1228.12,732.21 L1232.86,744.27 L1237.61,756.32 L1242.35,768.35 L1247.10,780.35 L1251.84,792.29 L1256.58,804.16 L1261.33,815.94 L1266.07,827.63 L1270.82,839.21 L1275.56,850.65 L1280.30,861.96 L1285.05,873.12 L1289.79,884.12 L1294.54,894.95 L1299.28,905.60 L1304.02,916.05 L1308.77,926.31 L1313.51,936.37 L1318.26,946.21 L1323.00,955.84 L1327.74,965.24 L1332.49,974.42 L1337.23,983.36 L1341.98,992.08 L1346.72,1000.55 L1351.46,1008.79 L1356.21,1016.79 L1360.95,1024.55 L1365.70,1032.07 L1370.44,1039.35 L1375.18,1046.38 L1379.93,1053.18 L1384.67,1059.75 L1389.42,1066.08 L1394.16,1072.18 L1398.90,1078.05 L1403.65,1083.70 L1408.39,1089.12 L1413.14,1094.33 L1417.88,1099.33 L1422.62,1104.11 L1427.37,1108.69 L1432.11,1113.07 L1436.86,1117.26 L1441.60,1121.26 L1446.34,1125.07 L1451.09,1128.70 L1455.83,1132.16 L1460.58,1135.45 L1465.32,1138.58 L1470.06,1141.55 L1474.81,1144.37 L1479.55,1147.05 L1484.30,1149.58 L1489.04,1151.97 L1493.78,1154.24 L1498.53,1156.38 L1503.27,1158.40 L1508.02,1160.31 L1512.76,1162.10 L1517.50,1163.79 L1522.25,1165.39 L1526.99,1166.88 L1531.74,1168.29 L1536.48,1169.61 L1541.22,1170.84 L1545.97,1172.00 L1550.71,1173.08 L1555.46,1174.10 L1560.20,1175.05 L1564.94,1175.93 L1569.69,1176.76 L1574.43,1177.53 L1579.18,1178.24 L1583.92,1178.91 L1588.66,1179.53 L1593.41,1180.11 L1598.15,1180.64 L1602.90,1181.14 L1607.64,1181.60 L1612.38,1182.03 L1617.13,1182.42 L1621.87,1182.79 L1626.62,1183.13 L1631.36,1183.44 L1636.10,1183.72 L1640.85,1183.99 L1645.59,1184.23 L1650.34,1184.46 L1655.08,1184.66 L1659.82,1184.85 L1664.57,1185.03 L1669.31,1185.19 L1674.06,1185.33 L1678.80,1185.47 L1683.54,1185.59 L1688.29,1185.70 L1693.03,1185.81 L1697.78,1185.90 L1702.52,1185.98 L1707.26,1186.06 L1712.01,1186.13 L1716.75,1186.20 L1721.50,1186.26 L1726.24,1186.31 L1730.98,1186.36 L1735.73,1186.40 L1738.10,1186.42" stroke="#666600"/>
</g>
<g id="axes" fill="none">
<line x1="169.9" y1="58.2" x2="1693.1000000000001" y2="58.2" stroke="#000000" stroke-width="2.8"/>
<line x1="171.5" y1="57.2" x2="171.5" y2="1188.6" stroke="#1c1c1c" stroke-width="3.6"/>
<line x1="1691.4" y1="57.2" x2="1691.4" y2="1188.6" stroke="#1c1c1c" stroke-width="3.6"/>
<line x1="169.9" y1="1186.8" x2="1693.1000000000001" y2="1186.8" stroke="#1a1a1a" stroke-width="3.9"/>
<g stroke="#101010" stroke-width="3.2">
<line x1="171.5" y1="1116.26" x2="179.5" y2="1116.26"/>
<line x1="171.5" y1="1045.72" x2="187.0" y2="1045.72"/>
<line x1="171.5" y1="975.19" x2="179.5" y2="975.19"/>
<line x1="171.5" y1="904.65" x2="187.0" y2="904.65"/>
<line x1="171.5" y1="834.11" x2="179.5" y2="834.11"/>
<line x1="171.5" y1="763.58" x2="187.0" y2="763.58"/>
<line x1="171.5" y1="693.04" x2="179.5" y2="693.04"/>
<line x1="171.5" y1="622.50" x2="187.0" y2="622.50"/>
<line x1="171.5" y1="551.96" x2="179.5" y2="551.96"/>
<line x1="171.5" y1="481.43" x2="187.0" y2="481.43"/>
<line x1="171.5" y1="410.89" x2="179.5" y2="410.89"/>
<line x1="171.5" y1="340.35" x2="187.0" y2="340.35"/>
<line x1="171.5" y1="269.81" x2="179.5" y2="269.81"/>
<line x1="171.5" y1="199.28" x2="187.0" y2="199.28"/>
<line x1="171.5" y1="128.74" x2="179.5" y2="128.74"/>
<line x1="196.30" y1="1186.8" x2="196.30" y2="1178.8"/>
<line x1="314.90" y1="1186.8" x2="314.90" y2="1170.8"/>
<line x1="433.50" y1="1186.8" x2="433.50" y2="1178.8"/>
<line x1="552.10" y1="1186.8" x2="552.10" y2="1170.8"/>
<line x1="670.70" y1="1186.8" x2="670.70" y2="1178.8"/>
<line x1="789.30" y1="1186.8" x2="789.30" y2="1170.8"/>
<line x1="907.90" y1="1186.8" x2="907.90" y2="1178.8"/>
<line x1="1026.50" y1="1186.8" x2="1026.50" y2="1170.8"/>
<line x1="1145.10" y1="1186.8" x2="1145.10" y2="1178.8"/>
<line x1="1263.70" y1="1186.8" x2="1263.70" y2="1170.8"/>
<line x1="1382.30" y1="1186.8" x2="1382.30" y2="1178.8"/>
<line x1="1500.90" y1="1186.8" x2="1500.90" y2="1170.8"/>
<line x1="1619.50" y1="1186.8" x2="1619.50" y2="1178.8"/>
</g></g>
<g id="ylabels">
<text transform="translate(152.8,1200.6)" font-size="46.9" text-anchor="end">0</text>
<text transform="translate(152.8,1059.5)" font-size="46.9" text-anchor="end">10</text>
<text transform="translate(152.8,918.4)" font-size="46.9" text-anchor="end">20</text>
<text transform="translate(152.8,777.4)" font-size="46.9" text-anchor="end">30</text>
<text transform="translate(152.8,636.3)" font-size="46.9" text-anchor="end">40</text>
<text transform="translate(152.8,495.2)" font-size="46.9" text-anchor="end">50</text>
<text transform="translate(152.8,354.2)" font-size="46.9" text-anchor="end">60</text>
<text transform="translate(152.8,213.1)" font-size="46.9" text-anchor="end">70</text>
<text transform="translate(152.8,72.0)" font-size="46.9" text-anchor="end">80</text>
</g>
<g id="xlabels">
<text font-size="46.9" text-anchor="end"><tspan x="223.2" y="1247.33" font-size="53.93">−</tspan><tspan x="316.0" y="1245.5">1500</tspan></text>
<text font-size="46.9" text-anchor="end"><tspan x="499.2" y="1245.83" font-size="53.93">−</tspan><tspan x="592.0" y="1244.0">1000</tspan></text>
<text font-size="46.9" text-anchor="end"><tspan x="769.95" y="1248.73" font-size="53.93">−</tspan><tspan x="839.3" y="1246.9">500</tspan></text>
<text x="1037.6" y="1241.6" font-size="46.9" text-anchor="end">0</text>
<text x="1298.4" y="1241.3" font-size="46.9" text-anchor="end">500</text>
<text x="1547.6" y="1241.6" font-size="46.9" text-anchor="end">1000</text>
</g>
<text transform="translate(987.8,1312.6) scale(1.0,1.005)" font-size="62.6" text-anchor="middle">Class Interval</text>
<text transform="translate(83.4,622.3) rotate(-90) scale(1.0,1.06)" font-size="62.5" text-anchor="middle">Frequency</text>
<g id="legend">
<rect x="228.4" y="86" width="575.6" height="512.2" fill="#ffffff" stroke="#7a7a7a" stroke-width="2.0"/>
<rect x="236.6" y="98.1" width="113.6" height="55.6" fill="#FF0000" stroke="#3a3a3a" stroke-width="2.7"/>
<text transform="translate(366,145.9) scale(1.0,1.01)" font-size="57.8" text-anchor="start">MNGO-XGBoost</text>
<rect x="236.6" y="170.2" width="113.6" height="55.6" fill="#0000FF" stroke="#3a3a3a" stroke-width="2.7"/>
<text transform="translate(366,218.0) scale(1.0,1.01)" font-size="57.8" text-anchor="start">NGO-XGBoost</text>
<rect x="236.6" y="242.29999999999998" width="113.6" height="55.6" fill="#FCEE7D" stroke="#3a3a3a" stroke-width="2.7"/>
<text transform="translate(366,290.09999999999997) scale(1.0,1.01)" font-size="57.8" text-anchor="start">WOA-XGBoost</text>
<rect x="236.6" y="314.4" width="113.6" height="55.6" fill="#6ED68C" stroke="#3a3a3a" stroke-width="2.7"/>
<text transform="translate(366,362.19999999999993) scale(1.0,1.01)" font-size="57.8" text-anchor="start">PSO-XGBoost</text>
<rect x="236.6" y="386.5" width="113.6" height="55.6" fill="#8000FF" stroke="#3a3a3a" stroke-width="2.7"/>
<text transform="translate(366,434.29999999999995) scale(1.0,1.01)" font-size="57.8" text-anchor="start">GWO-XGBoost</text>
<rect x="236.6" y="458.6" width="113.6" height="55.6" fill="#F5AE70" stroke="#3a3a3a" stroke-width="2.7"/>
<text transform="translate(366,506.4) scale(1.0,1.01)" font-size="57.8" text-anchor="start">XGBoost</text>
<rect x="236.6" y="530.6999999999999" width="113.6" height="55.6" fill="#808000" stroke="#3a3a3a" stroke-width="2.7"/>
<text transform="translate(366,578.4999999999999) scale(1.0,1.01)" font-size="57.8" text-anchor="start">LSTM</text>
</g>
<g id="inset">
<rect x="1192.4" y="75.2" width="484.1999999999998" height="368.40000000000003" fill="#ffffff"/>
<g clip-path="url(#insclip)">
<rect x="1044.69" y="325.79" width="6.97" height="10.31" fill="#8000FF" stroke="#6a6a6a" stroke-width="1.1"/>
<rect x="1135.31" y="325.79" width="6.97" height="10.31" fill="#6ED68C" stroke="#6a6a6a" stroke-width="1.1"/>
<rect x="1184.11" y="305.17" width="6.97" height="30.93" fill="#6ED68C" stroke="#6a6a6a" stroke-width="1.1"/>
<rect x="1218.97" y="325.79" width="6.97" height="10.31" fill="#0000FF" stroke="#6a6a6a" stroke-width="1.1"/>
<rect x="1225.94" y="305.17" width="6.97" height="30.93" fill="#FCEE7D" stroke="#6a6a6a" stroke-width="1.1"/>
<rect x="1232.91" y="294.86" width="6.97" height="41.24" fill="#6ED68C" stroke="#6a6a6a" stroke-width="1.1"/>
<rect x="1239.89" y="305.17" width="6.97" height="30.93" fill="#8000FF" stroke="#6a6a6a" stroke-width="1.1"/>
<rect x="1246.86" y="233.00" width="6.97" height="103.10" fill="#F5AE70" stroke="#6a6a6a" stroke-width="1.1"/>
<rect x="1253.83" y="294.86" width="6.97" height="41.24" fill="#808000" stroke="#6a6a6a" stroke-width="1.1"/>
<rect x="1260.80" y="315.48" width="6.97" height="20.62" fill="#FF0000" stroke="#6a6a6a" stroke-width="1.1"/>
<rect x="1267.77" y="315.48" width="6.97" height="20.62" fill="#0000FF" stroke="#6a6a6a" stroke-width="1.1"/>
<rect x="1274.74" y="233.00" width="6.97" height="103.10" fill="#FCEE7D" stroke="#6a6a6a" stroke-width="1.1"/>
<rect x="1281.71" y="284.55" width="6.97" height="51.55" fill="#6ED68C" stroke="#6a6a6a" stroke-width="1.1"/>
<rect x="1288.69" y="191.76" width="6.97" height="144.34" fill="#8000FF" stroke="#6a6a6a" stroke-width="1.1"/>
<rect x="1295.66" y="150.52" width="6.97" height="185.58" fill="#F5AE70" stroke="#6a6a6a" stroke-width="1.1"/>
<rect x="1302.63" y="305.17" width="6.97" height="30.93" fill="#808000" stroke="#6a6a6a" stroke-width="1.1"/>
<rect x="1309.60" y="243.31" width="6.97" height="92.79" fill="#FF0000" stroke="#6a6a6a" stroke-width="1.1"/>
<rect x="1316.57" y="233.00" width="6.97" height="103.10" fill="#0000FF" stroke="#6a6a6a" stroke-width="1.1"/>
<rect x="1323.54" y="160.83" width="6.97" height="175.27" fill="#FCEE7D" stroke="#6a6a6a" stroke-width="1.1"/>
<rect x="1330.51" y="88.66" width="6.97" height="247.44" fill="#6ED68C" stroke="#6a6a6a" stroke-width="1.1"/>
<rect x="1337.49" y="140.21" width="6.97" height="195.89" fill="#8000FF" stroke="#6a6a6a" stroke-width="1.1"/>
<rect x="1344.46" y="78.35" width="6.97" height="257.75" fill="#F5AE70" stroke="#6a6a6a" stroke-width="1.1"/>
<rect x="1351.43" y="181.45" width="6.97" height="154.65" fill="#808000" stroke="#6a6a6a" stroke-width="1.1"/>
<rect x="1358.40" y="212.38" width="6.97" height="123.72" fill="#FF0000" stroke="#6a6a6a" stroke-width="1.1"/>
<rect x="1365.37" y="78.35" width="6.97" height="257.75" fill="#0000FF" stroke="#6a6a6a" stroke-width="1.1"/>
<rect x="1372.34" y="119.59" width="6.97" height="216.51" fill="#FCEE7D" stroke="#6a6a6a" stroke-width="1.1"/>
<rect x="1379.31" y="171.14" width="6.97" height="164.96" fill="#6ED68C" stroke="#6a6a6a" stroke-width="1.1"/>
<rect x="1386.29" y="68.04" width="6.97" height="268.06" fill="#8000FF" stroke="#6a6a6a" stroke-width="1.1"/>
<rect x="1393.26" y="109.28" width="6.97" height="226.82" fill="#F5AE70" stroke="#6a6a6a" stroke-width="1.1"/>
<rect x="1400.23" y="222.69" width="6.97" height="113.41" fill="#808000" stroke="#6a6a6a" stroke-width="1.1"/>
<rect x="1407.20" y="-292.81" width="6.97" height="628.91" fill="#FF0000" stroke="#6a6a6a" stroke-width="1.1"/>
<rect x="1414.17" y="-210.33" width="6.97" height="546.43" fill="#0000FF" stroke="#6a6a6a" stroke-width="1.1"/>
<rect x="1421.14" y="-55.68" width="6.97" height="391.78" fill="#FCEE7D" stroke="#6a6a6a" stroke-width="1.1"/>
<rect x="1428.11" y="98.97" width="6.97" height="237.13" fill="#6ED68C" stroke="#6a6a6a" stroke-width="1.1"/>
<rect x="1435.09" y="37.11" width="6.97" height="298.99" fill="#8000FF" stroke="#6a6a6a" stroke-width="1.1"/>
<rect x="1442.06" y="150.52" width="6.97" height="185.58" fill="#F5AE70" stroke="#6a6a6a" stroke-width="1.1"/>
<rect x="1449.03" y="-96.92" width="6.97" height="433.02" fill="#808000" stroke="#6a6a6a" stroke-width="1.1"/>
<rect x="1456.00" y="-426.84" width="6.97" height="762.94" fill="#FF0000" stroke="#6a6a6a" stroke-width="1.1"/>
<rect x="1462.97" y="-210.33" width="6.97" height="546.43" fill="#0000FF" stroke="#6a6a6a" stroke-width="1.1"/>
<rect x="1469.94" y="-127.85" width="6.97" height="463.95" fill="#FCEE7D" stroke="#6a6a6a" stroke-width="1.1"/>
<rect x="1476.91" y="-4.13" width="6.97" height="340.23" fill="#6ED68C" stroke="#6a6a6a" stroke-width="1.1"/>
<rect x="1483.89" y="47.42" width="6.97" height="288.68" fill="#8000FF" stroke="#6a6a6a" stroke-width="1.1"/>
<rect x="1490.86" y="57.73" width="6.97" height="278.37" fill="#F5AE70" stroke="#6a6a6a" stroke-width="1.1"/>
<rect x="1497.83" y="-200.02" width="6.97" height="536.12" fill="#808000" stroke="#6a6a6a" stroke-width="1.1"/>
<rect x="1504.80" y="202.07" width="6.97" height="134.03" fill="#FF0000" stroke="#6a6a6a" stroke-width="1.1"/>
<rect x="1511.77" y="191.76" width="6.97" height="144.34" fill="#0000FF" stroke="#6a6a6a" stroke-width="1.1"/>
<rect x="1518.74" y="181.45" width="6.97" height="154.65" fill="#FCEE7D" stroke="#6a6a6a" stroke-width="1.1"/>
<rect x="1525.71" y="78.35" width="6.97" height="257.75" fill="#6ED68C" stroke="#6a6a6a" stroke-width="1.1"/>
<rect x="1532.69" y="98.97" width="6.97" height="237.13" fill="#8000FF" stroke="#6a6a6a" stroke-width="1.1"/>
<rect x="1539.66" y="150.52" width="6.97" height="185.58" fill="#F5AE70" stroke="#6a6a6a" stroke-width="1.1"/>
<rect x="1546.63" y="98.97" width="6.97" height="237.13" fill="#808000" stroke="#6a6a6a" stroke-width="1.1"/>
<rect x="1553.60" y="222.69" width="6.97" height="113.41" fill="#FF0000" stroke="#6a6a6a" stroke-width="1.1"/>
<rect x="1560.57" y="202.07" width="6.97" height="134.03" fill="#0000FF" stroke="#6a6a6a" stroke-width="1.1"/>
<rect x="1567.54" y="150.52" width="6.97" height="185.58" fill="#FCEE7D" stroke="#6a6a6a" stroke-width="1.1"/>
<rect x="1574.51" y="78.35" width="6.97" height="257.75" fill="#6ED68C" stroke="#6a6a6a" stroke-width="1.1"/>
<rect x="1581.49" y="140.21" width="6.97" height="195.89" fill="#8000FF" stroke="#6a6a6a" stroke-width="1.1"/>
<rect x="1588.46" y="160.83" width="6.97" height="175.27" fill="#F5AE70" stroke="#6a6a6a" stroke-width="1.1"/>
<rect x="1595.43" y="191.76" width="6.97" height="144.34" fill="#808000" stroke="#6a6a6a" stroke-width="1.1"/>
<rect x="1602.40" y="325.79" width="6.97" height="10.31" fill="#FF0000" stroke="#6a6a6a" stroke-width="1.1"/>
<rect x="1609.37" y="222.69" width="6.97" height="113.41" fill="#0000FF" stroke="#6a6a6a" stroke-width="1.1"/>
<rect x="1616.34" y="202.07" width="6.97" height="134.03" fill="#FCEE7D" stroke="#6a6a6a" stroke-width="1.1"/>
<rect x="1623.31" y="140.21" width="6.97" height="195.89" fill="#6ED68C" stroke="#6a6a6a" stroke-width="1.1"/>
<rect x="1630.29" y="150.52" width="6.97" height="185.58" fill="#8000FF" stroke="#6a6a6a" stroke-width="1.1"/>
<rect x="1637.26" y="129.90" width="6.97" height="206.20" fill="#F5AE70" stroke="#6a6a6a" stroke-width="1.1"/>
<rect x="1644.23" y="191.76" width="6.97" height="144.34" fill="#808000" stroke="#6a6a6a" stroke-width="1.1"/>
<rect x="1658.17" y="325.79" width="6.97" height="10.31" fill="#0000FF" stroke="#6a6a6a" stroke-width="1.1"/>
<rect x="1665.14" y="315.48" width="6.97" height="20.62" fill="#FCEE7D" stroke="#6a6a6a" stroke-width="1.1"/>
<rect x="1672.11" y="315.48" width="6.97" height="20.62" fill="#6ED68C" stroke="#6a6a6a" stroke-width="1.1"/>
<rect x="1679.09" y="305.17" width="6.97" height="30.93" fill="#8000FF" stroke="#6a6a6a" stroke-width="1.1"/>
<rect x="1686.06" y="253.62" width="6.97" height="82.48" fill="#F5AE70" stroke="#6a6a6a" stroke-width="1.1"/>
<rect x="1693.03" y="284.55" width="6.97" height="51.55" fill="#808000" stroke="#6a6a6a" stroke-width="1.1"/>
<rect x="1720.91" y="305.17" width="6.97" height="30.93" fill="#6ED68C" stroke="#6a6a6a" stroke-width="1.1"/>
<rect x="1762.74" y="325.79" width="6.97" height="10.31" fill="#FCEE7D" stroke="#6a6a6a" stroke-width="1.1"/>
<g fill="none" stroke-width="1.9">
<path d="M1279.34,332.12 L1281.78,331.51 L1284.22,330.82 L1286.66,330.04 L1289.10,329.16 L1291.54,328.16 L1293.98,327.03 L1296.42,325.77 L1298.86,324.35 L1301.30,322.77 L1303.74,321.00 L1306.18,319.03 L1308.62,316.84 L1311.06,314.41 L1313.50,311.72 L1315.94,308.75 L1318.38,305.48 L1320.82,301.89 L1323.26,297.95 L1325.70,293.63 L1328.14,288.93 L1330.58,283.80 L1333.02,278.23 L1335.46,272.18 L1337.90,265.65 L1340.34,258.60 L1342.78,251.01 L1345.22,242.85 L1347.66,234.12 L1350.10,224.78 L1352.54,214.83 L1354.98,204.24 L1357.42,193.01 L1359.86,181.12 L1362.30,168.57 L1364.74,155.36 L1367.18,141.49 L1369.62,126.96 L1372.06,111.78 L1374.50,95.97 L1376.94,79.55 L1379.38,62.54 L1381.82,44.96 L1384.26,26.86 L1386.70,8.28 L1389.14,-10.74 L1391.58,-30.16 L1394.02,-49.91 L1396.46,-69.92 L1398.90,-90.15 L1401.34,-110.51 L1403.78,-130.94 L1406.22,-151.34 L1408.66,-171.65 L1411.10,-191.77 L1413.54,-211.63 L1415.98,-231.12 L1418.42,-250.16 L1420.86,-268.66 L1423.30,-286.53 L1425.74,-303.68 L1428.18,-320.03 L1430.62,-335.48 L1433.06,-349.95 L1435.50,-363.37 L1437.94,-375.67 L1440.38,-386.77 L1442.82,-396.62 L1445.26,-405.15 L1447.70,-412.32 L1450.14,-418.09 L1452.58,-422.43 L1455.02,-425.30 L1457.46,-426.70 L1459.90,-426.61 L1462.34,-425.02 L1464.78,-421.96 L1467.22,-417.43 L1469.66,-411.47 L1472.10,-404.10 L1474.54,-395.37 L1476.98,-385.33 L1479.42,-374.03 L1481.86,-361.55 L1484.30,-347.94 L1486.74,-333.29 L1489.18,-317.67 L1491.62,-301.16 L1494.06,-283.86 L1496.50,-265.85 L1498.94,-247.21 L1501.38,-228.05 L1503.82,-208.45 L1506.26,-188.51 L1508.70,-168.30 L1511.14,-147.93 L1513.58,-127.47 L1516.02,-107.00 L1518.46,-86.61 L1520.90,-66.37 L1523.34,-46.35 L1525.78,-26.62 L1528.22,-7.23 L1530.66,11.76 L1533.10,30.30 L1535.54,48.34 L1537.98,65.85 L1540.42,82.79 L1542.86,99.13 L1545.30,114.85 L1547.74,129.93 L1550.18,144.36 L1552.62,158.13 L1555.06,171.23 L1557.50,183.67 L1559.94,195.44 L1562.38,206.56 L1564.82,217.03 L1567.26,226.87 L1569.70,236.10 L1572.14,244.72 L1574.58,252.76 L1577.02,260.25 L1579.46,267.19 L1581.90,273.63 L1584.34,279.57 L1586.78,285.05 L1589.22,290.09 L1591.66,294.71 L1594.10,298.94 L1596.54,302.80 L1598.98,306.32 L1601.42,309.52 L1603.86,312.42 L1606.30,315.05 L1608.74,317.42 L1611.18,319.56 L1613.62,321.48 L1616.06,323.20 L1618.50,324.75 L1620.94,326.12 L1623.38,327.35 L1625.82,328.44 L1628.26,329.41 L1630.70,330.27 L1633.14,331.03 L1635.58,331.69 L1636.32,331.88" stroke="#C80000"/>
<path d="M1213.95,333.41 L1216.39,333.12 L1218.83,332.79 L1221.27,332.44 L1223.71,332.05 L1226.15,331.62 L1228.59,331.15 L1231.03,330.64 L1233.47,330.09 L1235.91,329.48 L1238.35,328.82 L1240.79,328.11 L1243.23,327.33 L1245.67,326.48 L1248.11,325.57 L1250.55,324.58 L1252.99,323.51 L1255.43,322.35 L1257.87,321.10 L1260.31,319.76 L1262.75,318.32 L1265.19,316.77 L1267.63,315.10 L1270.07,313.32 L1272.51,311.41 L1274.95,309.36 L1277.39,307.18 L1279.83,304.85 L1282.27,302.37 L1284.71,299.73 L1287.15,296.93 L1289.59,293.95 L1292.03,290.79 L1294.47,287.44 L1296.91,283.90 L1299.35,280.16 L1301.79,276.22 L1304.23,272.07 L1306.67,267.69 L1309.11,263.10 L1311.55,258.27 L1313.99,253.21 L1316.43,247.92 L1318.87,242.38 L1321.31,236.60 L1323.75,230.57 L1326.19,224.29 L1328.63,217.76 L1331.07,210.98 L1333.51,203.94 L1335.95,196.66 L1338.39,189.12 L1340.83,181.34 L1343.27,173.32 L1345.71,165.05 L1348.15,156.55 L1350.59,147.83 L1353.03,138.88 L1355.47,129.72 L1357.91,120.36 L1360.35,110.81 L1362.79,101.08 L1365.23,91.18 L1367.67,81.13 L1370.11,70.94 L1372.55,60.63 L1374.99,50.22 L1377.43,39.71 L1379.87,29.14 L1382.31,18.52 L1384.75,7.87 L1387.19,-2.79 L1389.63,-13.42 L1392.07,-24.03 L1394.51,-34.57 L1396.95,-45.02 L1399.39,-55.36 L1401.83,-65.57 L1404.27,-75.62 L1406.71,-85.48 L1409.15,-95.14 L1411.59,-104.56 L1414.03,-113.72 L1416.47,-122.60 L1418.91,-131.16 L1421.35,-139.40 L1423.79,-147.28 L1426.23,-154.79 L1428.67,-161.89 L1431.11,-168.58 L1433.55,-174.83 L1435.99,-180.62 L1438.43,-185.93 L1440.87,-190.76 L1443.31,-195.08 L1445.75,-198.88 L1448.19,-202.15 L1450.63,-204.89 L1453.07,-207.07 L1455.51,-208.71 L1457.95,-209.78 L1460.39,-210.28 L1462.83,-210.23 L1465.27,-209.60 L1467.71,-208.41 L1470.15,-206.66 L1472.59,-204.35 L1475.03,-201.49 L1477.47,-198.09 L1479.91,-194.15 L1482.35,-189.70 L1484.79,-184.75 L1487.23,-179.30 L1489.67,-173.38 L1492.11,-167.01 L1494.55,-160.20 L1496.99,-152.97 L1499.43,-145.34 L1501.87,-137.34 L1504.31,-128.99 L1506.75,-120.32 L1509.19,-111.33 L1511.63,-102.07 L1514.07,-92.56 L1516.51,-82.81 L1518.95,-72.86 L1521.39,-62.73 L1523.83,-52.45 L1526.27,-42.04 L1528.71,-31.53 L1531.15,-20.93 L1533.59,-10.28 L1536.03,0.40 L1538.47,11.09 L1540.91,21.76 L1543.35,32.41 L1545.79,42.99 L1548.23,53.51 L1550.67,63.93 L1553.11,74.23 L1555.55,84.41 L1557.99,94.45 L1560.43,104.32 L1562.87,114.03 L1565.31,123.54 L1567.75,132.87 L1570.19,141.98 L1572.63,150.88 L1575.07,159.56 L1577.51,168.00 L1579.95,176.21 L1582.39,184.17 L1584.83,191.89 L1587.27,199.36 L1589.71,206.57 L1592.15,213.54 L1594.59,220.25 L1597.03,226.70 L1599.47,232.90 L1601.91,238.86 L1604.35,244.56 L1606.79,250.02 L1609.23,255.24 L1611.67,260.22 L1614.11,264.97 L1616.55,269.49 L1618.99,273.79 L1621.43,277.87 L1623.87,281.74 L1626.31,285.41 L1628.75,288.87 L1631.19,292.15 L1633.63,295.24 L1636.07,298.16 L1638.51,300.90 L1640.95,303.48 L1643.39,305.90 L1645.83,308.17 L1648.27,310.30 L1650.71,312.28 L1653.15,314.14 L1655.59,315.88 L1658.03,317.50 L1660.47,319.00 L1662.91,320.40 L1665.35,321.70 L1667.79,322.91 L1670.23,324.03 L1672.67,325.06 L1675.11,326.02 L1677.55,326.90 L1679.99,327.72 L1682.43,328.47 L1684.87,329.16 L1687.31,329.79 L1689.75,330.37 L1692.19,330.91 L1694.63,331.40 L1697.07,331.84 L1699.51,332.25 L1701.95,332.63 L1704.39,332.97 L1706.83,333.28 L1707.81,333.39" stroke="#0000CC"/>
<path d="M1152.71,332.53 L1155.15,332.24 L1157.59,331.93 L1160.03,331.60 L1162.47,331.25 L1164.91,330.87 L1167.35,330.46 L1169.79,330.03 L1172.23,329.57 L1174.67,329.08 L1177.11,328.55 L1179.55,327.99 L1181.99,327.40 L1184.43,326.77 L1186.87,326.09 L1189.31,325.38 L1191.75,324.62 L1194.19,323.82 L1196.63,322.96 L1199.07,322.06 L1201.51,321.11 L1203.95,320.10 L1206.39,319.03 L1208.83,317.90 L1211.27,316.71 L1213.71,315.46 L1216.15,314.14 L1218.59,312.75 L1221.03,311.28 L1223.47,309.74 L1225.91,308.12 L1228.35,306.43 L1230.79,304.64 L1233.23,302.78 L1235.67,300.82 L1238.11,298.77 L1240.55,296.63 L1242.99,294.39 L1245.43,292.05 L1247.87,289.61 L1250.31,287.06 L1252.75,284.41 L1255.19,281.65 L1257.63,278.77 L1260.07,275.79 L1262.51,272.68 L1264.95,269.46 L1267.39,266.12 L1269.83,262.65 L1272.27,259.06 L1274.71,255.35 L1277.15,251.51 L1279.59,247.55 L1282.03,243.46 L1284.47,239.23 L1286.91,234.88 L1289.35,230.40 L1291.79,225.79 L1294.23,221.05 L1296.67,216.19 L1299.11,211.19 L1301.55,206.07 L1303.99,200.82 L1306.43,195.45 L1308.87,189.96 L1311.31,184.35 L1313.75,178.62 L1316.19,172.77 L1318.63,166.82 L1321.07,160.75 L1323.51,154.59 L1325.95,148.32 L1328.39,141.96 L1330.83,135.51 L1333.27,128.97 L1335.71,122.36 L1338.15,115.67 L1340.59,108.92 L1343.03,102.10 L1345.47,95.23 L1347.91,88.31 L1350.35,81.35 L1352.79,74.37 L1355.23,67.35 L1357.67,60.33 L1360.11,53.29 L1362.55,46.26 L1364.99,39.24 L1367.43,32.24 L1369.87,25.26 L1372.31,18.33 L1374.75,11.44 L1377.19,4.62 L1379.63,-2.14 L1382.07,-8.82 L1384.51,-15.42 L1386.95,-21.92 L1389.39,-28.30 L1391.83,-34.58 L1394.27,-40.72 L1396.71,-46.72 L1399.15,-52.58 L1401.59,-58.28 L1404.03,-63.82 L1406.47,-69.18 L1408.91,-74.35 L1411.35,-79.34 L1413.79,-84.11 L1416.23,-88.68 L1418.67,-93.03 L1421.11,-97.16 L1423.55,-101.04 L1425.99,-104.69 L1428.43,-108.10 L1430.87,-111.24 L1433.31,-114.13 L1435.75,-116.76 L1438.19,-119.11 L1440.63,-121.19 L1443.07,-123.00 L1445.51,-124.52 L1447.95,-125.76 L1450.39,-126.71 L1452.83,-127.38 L1455.27,-127.76 L1457.71,-127.84 L1460.15,-127.64 L1462.59,-127.14 L1465.03,-126.35 L1467.47,-125.26 L1469.91,-123.89 L1472.35,-122.23 L1474.79,-120.28 L1477.23,-118.06 L1479.67,-115.56 L1482.11,-112.79 L1484.55,-109.75 L1486.99,-106.45 L1489.43,-102.90 L1491.87,-99.10 L1494.31,-95.06 L1496.75,-90.79 L1499.19,-86.29 L1501.63,-81.57 L1504.07,-76.64 L1506.51,-71.52 L1508.95,-66.20 L1511.39,-60.70 L1513.83,-55.02 L1516.27,-49.19 L1518.71,-43.20 L1521.15,-37.06 L1523.59,-30.79 L1526.03,-24.40 L1528.47,-17.90 L1530.91,-11.29 L1533.35,-4.59 L1535.79,2.20 L1538.23,9.05 L1540.67,15.97 L1543.11,22.94 L1545.55,29.96 L1547.99,37.00 L1550.43,44.07 L1552.87,51.16 L1555.31,58.24 L1557.75,65.33 L1560.19,72.40 L1562.63,79.45 L1565.07,86.46 L1567.51,93.44 L1569.95,100.38 L1572.39,107.26 L1574.83,114.08 L1577.27,120.84 L1579.71,127.52 L1582.15,134.12 L1584.59,140.64 L1587.03,147.07 L1589.47,153.40 L1591.91,159.63 L1594.35,165.76 L1596.79,171.78 L1599.23,177.69 L1601.67,183.48 L1604.11,189.15 L1606.55,194.70 L1608.99,200.13 L1611.43,205.43 L1613.87,210.61 L1616.31,215.66 L1618.75,220.57 L1621.19,225.36 L1623.63,230.02 L1626.07,234.54 L1628.51,238.94 L1630.95,243.20 L1633.39,247.33 L1635.83,251.33 L1638.27,255.20 L1640.71,258.95 L1643.15,262.57 L1645.59,266.06 L1648.03,269.43 L1650.47,272.68 L1652.91,275.80 L1655.35,278.81 L1657.79,281.71 L1660.23,284.49 L1662.67,287.16 L1665.11,289.72 L1667.55,292.17 L1669.99,294.52 L1672.43,296.77 L1674.87,298.93 L1677.31,300.98 L1679.75,302.95 L1682.19,304.82 L1684.63,306.61 L1687.07,308.31 L1689.51,309.93 L1691.95,311.47 L1694.39,312.94 L1696.83,314.33 L1699.27,315.65 L1701.71,316.90 L1704.15,318.09 L1706.59,319.22 L1709.03,320.28 L1711.47,321.29 L1713.91,322.24 L1716.35,323.14 L1718.79,323.99 L1721.23,324.79 L1723.67,325.54 L1726.11,326.25 L1728.55,326.92 L1730.99,327.55 L1733.43,328.14 L1735.87,328.69 L1738.31,329.21 L1740.75,329.70 L1743.19,330.16 L1745.63,330.58 L1748.07,330.98 L1750.51,331.36 L1752.95,331.71 L1755.39,332.03 L1757.83,332.34 L1760.27,332.62 L1762.71,332.89 L1765.15,333.13 L1767.59,333.36 L1770.03,333.58 L1772.47,333.77 L1774.91,333.96 L1777.35,334.13 L1779.79,334.29 L1782.23,334.43 L1784.67,334.57 L1787.11,334.69 L1789.55,334.81 L1791.99,334.92 L1794.43,335.02 L1796.87,335.11 L1799.31,335.19 L1801.75,335.27 L1804.19,335.34 L1806.63,335.41 L1809.07,335.47 L1811.51,335.52 L1813.95,335.57 L1816.39,335.62 L1818.83,335.66 L1821.27,335.70 L1822.00,335.71" stroke="#B8AE55"/>
<path d="M1102.20,334.17 L1104.64,334.04 L1107.08,333.89 L1109.52,333.74 L1111.96,333.58 L1114.40,333.40 L1116.84,333.22 L1119.28,333.02 L1121.72,332.82 L1124.16,332.60 L1126.60,332.37 L1129.04,332.12 L1131.48,331.86 L1133.92,331.59 L1136.36,331.30 L1138.80,331.00 L1141.24,330.67 L1143.68,330.33 L1146.12,329.97 L1148.56,329.59 L1151.00,329.20 L1153.44,328.78 L1155.88,328.33 L1158.32,327.87 L1160.76,327.38 L1163.20,326.87 L1165.64,326.33 L1168.08,325.76 L1170.52,325.17 L1172.96,324.54 L1175.40,323.89 L1177.84,323.20 L1180.28,322.49 L1182.72,321.74 L1185.16,320.95 L1187.60,320.13 L1190.04,319.27 L1192.48,318.38 L1194.92,317.44 L1197.36,316.47 L1199.80,315.45 L1202.24,314.39 L1204.68,313.29 L1207.12,312.14 L1209.56,310.95 L1212.00,309.70 L1214.44,308.41 L1216.88,307.07 L1219.32,305.68 L1221.76,304.23 L1224.20,302.73 L1226.64,301.18 L1229.08,299.57 L1231.52,297.90 L1233.96,296.17 L1236.40,294.39 L1238.84,292.54 L1241.28,290.64 L1243.72,288.67 L1246.16,286.64 L1248.60,284.55 L1251.04,282.39 L1253.48,280.16 L1255.92,277.87 L1258.36,275.52 L1260.80,273.09 L1263.24,270.60 L1265.68,268.05 L1268.12,265.42 L1270.56,262.72 L1273.00,259.96 L1275.44,257.13 L1277.88,254.23 L1280.32,251.26 L1282.76,248.23 L1285.20,245.12 L1287.64,241.95 L1290.08,238.72 L1292.52,235.41 L1294.96,232.04 L1297.40,228.61 L1299.84,225.12 L1302.28,221.56 L1304.72,217.94 L1307.16,214.26 L1309.60,210.52 L1312.04,206.73 L1314.48,202.89 L1316.92,198.99 L1319.36,195.04 L1321.80,191.04 L1324.24,187.00 L1326.68,182.91 L1329.12,178.78 L1331.56,174.61 L1334.00,170.41 L1336.44,166.17 L1338.88,161.91 L1341.32,157.61 L1343.76,153.30 L1346.20,148.96 L1348.64,144.61 L1351.08,140.25 L1353.52,135.87 L1355.96,131.49 L1358.40,127.11 L1360.84,122.73 L1363.28,118.36 L1365.72,114.00 L1368.16,109.65 L1370.60,105.32 L1373.04,101.02 L1375.48,96.74 L1377.92,92.50 L1380.36,88.29 L1382.80,84.12 L1385.24,80.00 L1387.68,75.92 L1390.12,71.91 L1392.56,67.95 L1395.00,64.05 L1397.44,60.22 L1399.88,56.47 L1402.32,52.79 L1404.76,49.19 L1407.20,45.68 L1409.64,42.25 L1412.08,38.92 L1414.52,35.69 L1416.96,32.56 L1419.40,29.53 L1421.84,26.62 L1424.28,23.81 L1426.72,21.13 L1429.16,18.56 L1431.60,16.12 L1434.04,13.80 L1436.48,11.62 L1438.92,9.56 L1441.36,7.64 L1443.80,5.86 L1446.24,4.22 L1448.68,2.72 L1451.12,1.37 L1453.56,0.16 L1456.00,-0.91 L1458.44,-1.82 L1460.88,-2.58 L1463.32,-3.19 L1465.76,-3.65 L1468.20,-3.96 L1470.64,-4.11 L1473.08,-4.11 L1475.52,-3.96 L1477.96,-3.65 L1480.40,-3.19 L1482.84,-2.57 L1485.28,-1.81 L1487.72,-0.89 L1490.16,0.17 L1492.60,1.39 L1495.04,2.75 L1497.48,4.26 L1499.92,5.90 L1502.36,7.69 L1504.80,9.62 L1507.24,11.68 L1509.68,13.88 L1512.12,16.20 L1514.56,18.66 L1517.00,21.23 L1519.44,23.93 L1521.88,26.74 L1524.32,29.67 L1526.76,32.71 L1529.20,35.85 L1531.64,39.09 L1534.08,42.43 L1536.52,45.87 L1538.96,49.40 L1541.40,53.01 L1543.84,56.70 L1546.28,60.47 L1548.72,64.31 L1551.16,68.22 L1553.60,72.19 L1556.04,76.22 L1558.48,80.31 L1560.92,84.44 L1563.36,88.62 L1565.80,92.84 L1568.24,97.10 L1570.68,101.39 L1573.12,105.70 L1575.56,110.04 L1578.00,114.40 L1580.44,118.77 L1582.88,123.16 L1585.32,127.54 L1587.76,131.94 L1590.20,136.32 L1592.64,140.71 L1595.08,145.08 L1597.52,149.44 L1599.96,153.78 L1602.40,158.10 L1604.84,162.40 L1607.28,166.67 L1609.72,170.91 L1612.16,175.12 L1614.60,179.29 L1617.04,183.43 L1619.48,187.52 L1621.92,191.56 L1624.36,195.57 L1626.80,199.52 L1629.24,203.42 L1631.68,207.26 L1634.12,211.06 L1636.56,214.79 L1639.00,218.47 L1641.44,222.09 L1643.88,225.64 L1646.32,229.14 L1648.76,232.57 L1651.20,235.93 L1653.64,239.23 L1656.08,242.47 L1658.52,245.63 L1660.96,248.73 L1663.40,251.76 L1665.84,254.73 L1668.28,257.62 L1670.72,260.45 L1673.16,263.20 L1675.60,265.89 L1678.04,268.51 L1680.48,271.06 L1682.92,273.55 L1685.36,275.96 L1687.80,278.31 L1690.24,280.59 L1692.68,282.81 L1695.12,284.96 L1697.56,287.04 L1700.00,289.07 L1702.44,291.03 L1704.88,292.92 L1707.32,294.76 L1709.76,296.54 L1712.20,298.25 L1714.64,299.91 L1717.08,301.51 L1719.52,303.06 L1721.96,304.55 L1724.40,305.99 L1726.84,307.37 L1729.28,308.71 L1731.72,309.99 L1734.16,311.22 L1736.60,312.41 L1739.04,313.55 L1741.48,314.65 L1743.92,315.70 L1746.36,316.71 L1748.80,317.67 L1751.24,318.60 L1753.68,319.49 L1756.12,320.34 L1758.56,321.15 L1761.00,321.93 L1763.44,322.67 L1765.88,323.38 L1768.32,324.06 L1770.76,324.71 L1773.20,325.32 L1775.64,325.91 L1778.08,326.47 L1780.52,327.01 L1782.96,327.51 L1785.40,328.00 L1787.84,328.46 L1790.28,328.89 L1792.72,329.31 L1795.16,329.70 L1797.60,330.08 L1800.04,330.43 L1802.48,330.77 L1804.92,331.09 L1807.36,331.39 L1809.80,331.67 L1812.24,331.94 L1814.68,332.20 L1817.12,332.44 L1819.56,332.67 L1822.00,332.88" stroke="#3F9A68"/>
<path d="M1096.34,334.73 L1098.78,334.63 L1101.22,334.52 L1103.66,334.40 L1106.10,334.27 L1108.54,334.14 L1110.98,334.00 L1113.42,333.85 L1115.86,333.69 L1118.30,333.51 L1120.74,333.33 L1123.18,333.14 L1125.62,332.93 L1128.06,332.71 L1130.50,332.48 L1132.94,332.23 L1135.38,331.97 L1137.82,331.70 L1140.26,331.40 L1142.70,331.09 L1145.14,330.77 L1147.58,330.42 L1150.02,330.06 L1152.46,329.67 L1154.90,329.26 L1157.34,328.84 L1159.78,328.38 L1162.22,327.91 L1164.66,327.41 L1167.10,326.88 L1169.54,326.32 L1171.98,325.74 L1174.42,325.13 L1176.86,324.49 L1179.30,323.81 L1181.74,323.11 L1184.18,322.37 L1186.62,321.59 L1189.06,320.78 L1191.50,319.93 L1193.94,319.05 L1196.38,318.12 L1198.82,317.15 L1201.26,316.14 L1203.70,315.09 L1206.14,313.99 L1208.58,312.84 L1211.02,311.65 L1213.46,310.41 L1215.90,309.12 L1218.34,307.78 L1220.78,306.39 L1223.22,304.94 L1225.66,303.44 L1228.10,301.89 L1230.54,300.28 L1232.98,298.61 L1235.42,296.88 L1237.86,295.09 L1240.30,293.25 L1242.74,291.34 L1245.18,289.37 L1247.62,287.34 L1250.06,285.24 L1252.50,283.08 L1254.94,280.86 L1257.38,278.57 L1259.82,276.22 L1262.26,273.80 L1264.70,271.31 L1267.14,268.76 L1269.58,266.15 L1272.02,263.46 L1274.46,260.71 L1276.90,257.90 L1279.34,255.02 L1281.78,252.08 L1284.22,249.07 L1286.66,246.00 L1289.10,242.87 L1291.54,239.68 L1293.98,236.42 L1296.42,233.11 L1298.86,229.74 L1301.30,226.32 L1303.74,222.84 L1306.18,219.30 L1308.62,215.72 L1311.06,212.09 L1313.50,208.41 L1315.94,204.68 L1318.38,200.92 L1320.82,197.12 L1323.26,193.27 L1325.70,189.40 L1328.14,185.50 L1330.58,181.56 L1333.02,177.61 L1335.46,173.63 L1337.90,169.63 L1340.34,165.62 L1342.78,161.60 L1345.22,157.57 L1347.66,153.54 L1350.10,149.52 L1352.54,145.49 L1354.98,141.48 L1357.42,137.48 L1359.86,133.50 L1362.30,129.54 L1364.74,125.60 L1367.18,121.70 L1369.62,117.83 L1372.06,114.01 L1374.50,110.22 L1376.94,106.49 L1379.38,102.81 L1381.82,99.19 L1384.26,95.63 L1386.70,92.13 L1389.14,88.71 L1391.58,85.37 L1394.02,82.10 L1396.46,78.92 L1398.90,75.83 L1401.34,72.83 L1403.78,69.93 L1406.22,67.13 L1408.66,64.43 L1411.10,61.84 L1413.54,59.37 L1415.98,57.01 L1418.42,54.76 L1420.86,52.64 L1423.30,50.65 L1425.74,48.78 L1428.18,47.05 L1430.62,45.44 L1433.06,43.98 L1435.50,42.65 L1437.94,41.46 L1440.38,40.41 L1442.82,39.50 L1445.26,38.74 L1447.70,38.12 L1450.14,37.65 L1452.58,37.32 L1455.02,37.15 L1457.46,37.12 L1459.90,37.24 L1462.34,37.50 L1464.78,37.92 L1467.22,38.49 L1469.66,39.20 L1472.10,40.06 L1474.54,41.06 L1476.98,42.21 L1479.42,43.50 L1481.86,44.93 L1484.30,46.49 L1486.74,48.19 L1489.18,50.03 L1491.62,51.99 L1494.06,54.08 L1496.50,56.30 L1498.94,58.64 L1501.38,61.09 L1503.82,63.66 L1506.26,66.34 L1508.70,69.13 L1511.14,72.02 L1513.58,75.01 L1516.02,78.10 L1518.46,81.27 L1520.90,84.53 L1523.34,87.88 L1525.78,91.30 L1528.22,94.79 L1530.66,98.36 L1533.10,101.99 L1535.54,105.68 L1537.98,109.42 L1540.42,113.21 L1542.86,117.05 L1545.30,120.93 L1547.74,124.85 L1550.18,128.80 L1552.62,132.78 L1555.06,136.78 L1557.50,140.80 L1559.94,144.83 L1562.38,148.88 L1564.82,152.93 L1567.26,156.98 L1569.70,161.03 L1572.14,165.08 L1574.58,169.11 L1577.02,173.13 L1579.46,177.13 L1581.90,181.11 L1584.34,185.07 L1586.78,189.00 L1589.22,192.90 L1591.66,196.77 L1594.10,200.60 L1596.54,204.39 L1598.98,208.13 L1601.42,211.84 L1603.86,215.49 L1606.30,219.10 L1608.74,222.65 L1611.18,226.16 L1613.62,229.60 L1616.06,232.99 L1618.50,236.33 L1620.94,239.60 L1623.38,242.81 L1625.82,245.96 L1628.26,249.05 L1630.70,252.08 L1633.14,255.03 L1635.58,257.93 L1638.02,260.76 L1640.46,263.52 L1642.90,266.22 L1645.34,268.84 L1647.78,271.41 L1650.22,273.90 L1652.66,276.33 L1655.10,278.70 L1657.54,280.99 L1659.98,283.23 L1662.42,285.39 L1664.86,287.50 L1667.30,289.53 L1669.74,291.51 L1672.18,293.42 L1674.62,295.27 L1677.06,297.06 L1679.50,298.79 L1681.94,300.47 L1684.38,302.08 L1686.82,303.64 L1689.26,305.14 L1691.70,306.58 L1694.14,307.98 L1696.58,309.32 L1699.02,310.61 L1701.46,311.85 L1703.90,313.04 L1706.34,314.18 L1708.78,315.28 L1711.22,316.33 L1713.66,317.34 L1716.10,318.30 L1718.54,319.23 L1720.98,320.11 L1723.42,320.96 L1725.86,321.76 L1728.30,322.54 L1730.74,323.27 L1733.18,323.97 L1735.62,324.64 L1738.06,325.28 L1740.50,325.89 L1742.94,326.47 L1745.38,327.02 L1747.82,327.54 L1750.26,328.04 L1752.70,328.51 L1755.14,328.96 L1757.58,329.38 L1760.02,329.79 L1762.46,330.17 L1764.90,330.53 L1767.34,330.87 L1769.78,331.19 L1772.22,331.50 L1774.66,331.79 L1777.10,332.06 L1779.54,332.32 L1781.98,332.56 L1784.42,332.79 L1786.86,333.01 L1789.30,333.21 L1791.74,333.40 L1794.18,333.58 L1796.62,333.75 L1799.06,333.91 L1801.50,334.06 L1803.94,334.19 L1806.38,334.33 L1808.82,334.45 L1811.26,334.56 L1813.70,334.67 L1816.14,334.77 L1818.58,334.87 L1821.02,334.96 L1822.00,334.99" stroke="#6000CC"/>
<path d="M1042.18,334.79 L1044.62,334.70 L1047.06,334.61 L1049.50,334.51 L1051.94,334.41 L1054.38,334.30 L1056.82,334.18 L1059.26,334.06 L1061.70,333.93 L1064.14,333.79 L1066.58,333.65 L1069.02,333.50 L1071.46,333.34 L1073.90,333.17 L1076.34,332.99 L1078.78,332.80 L1081.22,332.60 L1083.66,332.39 L1086.10,332.18 L1088.54,331.94 L1090.98,331.70 L1093.42,331.45 L1095.86,331.18 L1098.30,330.90 L1100.74,330.60 L1103.18,330.29 L1105.62,329.97 L1108.06,329.63 L1110.50,329.27 L1112.94,328.89 L1115.38,328.50 L1117.82,328.09 L1120.26,327.66 L1122.70,327.22 L1125.14,326.75 L1127.58,326.26 L1130.02,325.75 L1132.46,325.21 L1134.90,324.66 L1137.34,324.08 L1139.78,323.47 L1142.22,322.84 L1144.66,322.19 L1147.10,321.51 L1149.54,320.80 L1151.98,320.06 L1154.42,319.29 L1156.86,318.49 L1159.30,317.66 L1161.74,316.80 L1164.18,315.91 L1166.62,314.99 L1169.06,314.03 L1171.50,313.03 L1173.94,312.00 L1176.38,310.94 L1178.82,309.84 L1181.26,308.69 L1183.70,307.52 L1186.14,306.30 L1188.58,305.04 L1191.02,303.74 L1193.46,302.40 L1195.90,301.02 L1198.34,299.60 L1200.78,298.13 L1203.22,296.62 L1205.66,295.06 L1208.10,293.46 L1210.54,291.82 L1212.98,290.13 L1215.42,288.39 L1217.86,286.61 L1220.30,284.78 L1222.74,282.90 L1225.18,280.97 L1227.62,279.00 L1230.06,276.98 L1232.50,274.91 L1234.94,272.79 L1237.38,270.63 L1239.82,268.42 L1242.26,266.16 L1244.70,263.85 L1247.14,261.49 L1249.58,259.09 L1252.02,256.64 L1254.46,254.15 L1256.90,251.61 L1259.34,249.02 L1261.78,246.39 L1264.22,243.72 L1266.66,241.00 L1269.10,238.24 L1271.54,235.44 L1273.98,232.60 L1276.42,229.72 L1278.86,226.80 L1281.30,223.85 L1283.74,220.86 L1286.18,217.83 L1288.62,214.78 L1291.06,211.69 L1293.50,208.57 L1295.94,205.43 L1298.38,202.26 L1300.82,199.07 L1303.26,195.85 L1305.70,192.61 L1308.14,189.36 L1310.58,186.09 L1313.02,182.81 L1315.46,179.51 L1317.90,176.21 L1320.34,172.90 L1322.78,169.58 L1325.22,166.26 L1327.66,162.95 L1330.10,159.64 L1332.54,156.33 L1334.98,153.03 L1337.42,149.74 L1339.86,146.47 L1342.30,143.22 L1344.74,139.98 L1347.18,136.77 L1349.62,133.58 L1352.06,130.42 L1354.50,127.29 L1356.94,124.20 L1359.38,121.14 L1361.82,118.13 L1364.26,115.16 L1366.70,112.23 L1369.14,109.35 L1371.58,106.52 L1374.02,103.75 L1376.46,101.04 L1378.90,98.38 L1381.34,95.79 L1383.78,93.26 L1386.22,90.80 L1388.66,88.41 L1391.10,86.10 L1393.54,83.86 L1395.98,81.70 L1398.42,79.62 L1400.86,77.62 L1403.30,75.71 L1405.74,73.88 L1408.18,72.15 L1410.62,70.50 L1413.06,68.95 L1415.50,67.49 L1417.94,66.13 L1420.38,64.87 L1422.82,63.70 L1425.26,62.64 L1427.70,61.68 L1430.14,60.82 L1432.58,60.06 L1435.02,59.41 L1437.46,58.86 L1439.90,58.43 L1442.34,58.09 L1444.78,57.87 L1447.22,57.75 L1449.66,57.74 L1452.10,57.83 L1454.54,58.04 L1456.98,58.35 L1459.42,58.76 L1461.86,59.28 L1464.30,59.90 L1466.74,60.63 L1469.18,61.47 L1471.62,62.40 L1474.06,63.44 L1476.50,64.57 L1478.94,65.81 L1481.38,67.14 L1483.82,68.57 L1486.26,70.09 L1488.70,71.70 L1491.14,73.41 L1493.58,75.20 L1496.02,77.09 L1498.46,79.05 L1500.90,81.10 L1503.34,83.23 L1505.78,85.44 L1508.22,87.72 L1510.66,90.08 L1513.10,92.51 L1515.54,95.00 L1517.98,97.57 L1520.42,100.19 L1522.86,102.88 L1525.30,105.62 L1527.74,108.42 L1530.18,111.27 L1532.62,114.17 L1535.06,117.12 L1537.50,120.11 L1539.94,123.14 L1542.38,126.21 L1544.82,129.31 L1547.26,132.45 L1549.70,135.61 L1552.14,138.80 L1554.58,142.02 L1557.02,145.25 L1559.46,148.51 L1561.90,151.78 L1564.34,155.06 L1566.78,158.35 L1569.22,161.65 L1571.66,164.95 L1574.10,168.25 L1576.54,171.55 L1578.98,174.85 L1581.42,178.15 L1583.86,181.43 L1586.30,184.71 L1588.74,187.97 L1591.18,191.22 L1593.62,194.45 L1596.06,197.67 L1598.50,200.86 L1600.94,204.03 L1603.38,207.17 L1605.82,210.29 L1608.26,213.37 L1610.70,216.43 L1613.14,219.46 L1615.58,222.45 L1618.02,225.41 L1620.46,228.34 L1622.90,231.22 L1625.34,234.07 L1627.78,236.88 L1630.22,239.65 L1632.66,242.38 L1635.10,245.06 L1637.54,247.70 L1639.98,250.30 L1642.42,252.86 L1644.86,255.36 L1647.30,257.83 L1649.74,260.24 L1652.18,262.61 L1654.62,264.94 L1657.06,267.21 L1659.50,269.44 L1661.94,271.63 L1664.38,273.76 L1666.82,275.85 L1669.26,277.89 L1671.70,279.88 L1674.14,281.82 L1676.58,283.72 L1679.02,285.57 L1681.46,287.37 L1683.90,289.13 L1686.34,290.84 L1688.78,292.51 L1691.22,294.13 L1693.66,295.70 L1696.10,297.23 L1698.54,298.72 L1700.98,300.17 L1703.42,301.57 L1705.86,302.93 L1708.30,304.25 L1710.74,305.52 L1713.18,306.76 L1715.62,307.96 L1718.06,309.12 L1720.50,310.24 L1722.94,311.33 L1725.38,312.37 L1727.82,313.39 L1730.26,314.36 L1732.70,315.31 L1735.14,316.22 L1737.58,317.10 L1740.02,317.94 L1742.46,318.76 L1744.90,319.54 L1747.34,320.30 L1749.78,321.02 L1752.22,321.72 L1754.66,322.39 L1757.10,323.04 L1759.54,323.66 L1761.98,324.25 L1764.42,324.82 L1766.86,325.37 L1769.30,325.90 L1771.74,326.40 L1774.18,326.88 L1776.62,327.34 L1779.06,327.78 L1781.50,328.20 L1783.94,328.61 L1786.38,328.99 L1788.82,329.36 L1791.26,329.71 L1793.70,330.05 L1796.14,330.37 L1798.58,330.67 L1801.02,330.96 L1803.46,331.24 L1805.90,331.51 L1808.34,331.76 L1810.78,332.00 L1813.22,332.22 L1815.66,332.44 L1818.10,332.65 L1820.54,332.84 L1822.00,332.95" stroke="#B98552"/>
<path d="M1179.06,333.44 L1181.50,333.20 L1183.94,332.93 L1186.38,332.65 L1188.82,332.34 L1191.26,332.00 L1193.70,331.64 L1196.14,331.25 L1198.58,330.83 L1201.02,330.38 L1203.46,329.90 L1205.90,329.38 L1208.34,328.81 L1210.78,328.21 L1213.22,327.57 L1215.66,326.88 L1218.10,326.14 L1220.54,325.35 L1222.98,324.50 L1225.42,323.60 L1227.86,322.64 L1230.30,321.62 L1232.74,320.52 L1235.18,319.36 L1237.62,318.13 L1240.06,316.82 L1242.50,315.42 L1244.94,313.95 L1247.38,312.38 L1249.82,310.73 L1252.26,308.98 L1254.70,307.13 L1257.14,305.17 L1259.58,303.11 L1262.02,300.94 L1264.46,298.65 L1266.90,296.24 L1269.34,293.71 L1271.78,291.05 L1274.22,288.26 L1276.66,285.33 L1279.10,282.26 L1281.54,279.06 L1283.98,275.70 L1286.42,272.19 L1288.86,268.54 L1291.30,264.72 L1293.74,260.74 L1296.18,256.61 L1298.62,252.30 L1301.06,247.83 L1303.50,243.19 L1305.94,238.38 L1308.38,233.39 L1310.82,228.23 L1313.26,222.89 L1315.70,217.38 L1318.14,211.69 L1320.58,205.82 L1323.02,199.78 L1325.46,193.56 L1327.90,187.17 L1330.34,180.61 L1332.78,173.87 L1335.22,166.97 L1337.66,159.91 L1340.10,152.69 L1342.54,145.31 L1344.98,137.79 L1347.42,130.12 L1349.86,122.30 L1352.30,114.36 L1354.74,106.29 L1357.18,98.11 L1359.62,89.81 L1362.06,81.42 L1364.50,72.93 L1366.94,64.36 L1369.38,55.71 L1371.82,47.01 L1374.26,38.26 L1376.70,29.46 L1379.14,20.64 L1381.58,11.81 L1384.02,2.98 L1386.46,-5.85 L1388.90,-14.64 L1391.34,-23.40 L1393.78,-32.11 L1396.22,-40.74 L1398.66,-49.30 L1401.10,-57.76 L1403.54,-66.10 L1405.98,-74.33 L1408.42,-82.40 L1410.86,-90.33 L1413.30,-98.08 L1415.74,-105.65 L1418.18,-113.02 L1420.62,-120.17 L1423.06,-127.09 L1425.50,-133.78 L1427.94,-140.21 L1430.38,-146.36 L1432.82,-152.24 L1435.26,-157.83 L1437.70,-163.11 L1440.14,-168.07 L1442.58,-172.71 L1445.02,-177.01 L1447.46,-180.97 L1449.90,-184.57 L1452.34,-187.81 L1454.78,-190.68 L1457.22,-193.17 L1459.66,-195.29 L1462.10,-197.02 L1464.54,-198.36 L1466.98,-199.31 L1469.42,-199.86 L1471.86,-200.02 L1474.30,-199.78 L1476.74,-199.15 L1479.18,-198.13 L1481.62,-196.72 L1484.06,-194.92 L1486.50,-192.74 L1488.94,-190.19 L1491.38,-187.26 L1493.82,-183.96 L1496.26,-180.31 L1498.70,-176.30 L1501.14,-171.96 L1503.58,-167.28 L1506.02,-162.27 L1508.46,-156.96 L1510.90,-151.34 L1513.34,-145.44 L1515.78,-139.25 L1518.22,-132.80 L1520.66,-126.10 L1523.10,-119.16 L1525.54,-112.00 L1527.98,-104.62 L1530.42,-97.05 L1532.86,-89.29 L1535.30,-81.37 L1537.74,-73.29 L1540.18,-65.08 L1542.62,-56.74 L1545.06,-48.29 L1547.50,-39.75 L1549.94,-31.13 L1552.38,-22.44 L1554.82,-13.70 L1557.26,-4.92 L1559.70,3.88 L1562.14,12.69 L1564.58,21.50 L1567.02,30.29 L1569.46,39.06 L1571.90,47.78 L1574.34,56.46 L1576.78,65.07 L1579.22,73.61 L1581.66,82.07 L1584.10,90.44 L1586.54,98.70 L1588.98,106.86 L1591.42,114.90 L1593.86,122.81 L1596.30,130.59 L1598.74,138.23 L1601.18,145.73 L1603.62,153.08 L1606.06,160.27 L1608.50,167.31 L1610.94,174.18 L1613.38,180.89 L1615.82,187.43 L1618.26,193.79 L1620.70,199.99 L1623.14,206.01 L1625.58,211.85 L1628.02,217.52 L1630.46,223.02 L1632.90,228.34 L1635.34,233.48 L1637.78,238.45 L1640.22,243.25 L1642.66,247.88 L1645.10,252.33 L1647.54,256.63 L1649.98,260.75 L1652.42,264.72 L1654.86,268.52 L1657.30,272.17 L1659.74,275.67 L1662.18,279.02 L1664.62,282.22 L1667.06,285.28 L1669.50,288.20 L1671.94,290.99 L1674.38,293.64 L1676.82,296.17 L1679.26,298.58 L1681.70,300.86 L1684.14,303.03 L1686.58,305.09 L1689.02,307.05 L1691.46,308.90 L1693.90,310.65 L1696.34,312.30 L1698.78,313.87 L1701.22,315.35 L1703.66,316.74 L1706.10,318.05 L1708.54,319.29 L1710.98,320.45 L1713.42,321.54 L1715.86,322.57 L1718.30,323.53 L1720.74,324.44 L1723.18,325.28 L1725.62,326.08 L1728.06,326.82 L1730.50,327.51 L1732.94,328.16 L1735.38,328.76 L1737.82,329.32 L1740.26,329.85 L1742.70,330.34 L1745.14,330.79 L1747.58,331.21 L1750.02,331.60 L1752.46,331.96 L1754.90,332.30 L1757.34,332.61 L1759.78,332.90 L1762.22,333.17 L1764.66,333.41 L1767.10,333.64 L1769.54,333.85 L1771.98,334.05 L1774.42,334.22 L1776.86,334.39 L1779.30,334.54 L1781.74,334.68 L1784.18,334.80 L1786.62,334.92 L1789.06,335.03 L1791.50,335.13 L1793.94,335.22 L1796.38,335.30 L1798.82,335.37 L1801.26,335.44 L1803.70,335.50 L1806.14,335.56 L1808.58,335.61 L1811.02,335.66 L1813.46,335.70 L1815.90,335.74 L1818.34,335.78 L1820.78,335.81 L1822.00,335.82" stroke="#666600"/>
</g></g>
<g fill="none">
<line x1="1191.6000000000001" y1="75.2" x2="1677.3999999999999" y2="75.2" stroke="#a8a8a8" stroke-width="3.2"/>
<line x1="1191.6000000000001" y1="443.90000000000003" x2="1677.3999999999999" y2="443.90000000000003" stroke="#949494" stroke-width="3.8"/>
<line x1="1192.4" y1="75.2" x2="1192.4" y2="443.6" stroke="#707070" stroke-width="2.2"/>
<line x1="1676.6" y1="75.2" x2="1676.6" y2="443.6" stroke="#808080" stroke-width="2.0"/>
<g stroke="#555555" stroke-width="1.5">
<line x1="1192.4" y1="439.20" x2="1197.4" y2="439.20"/>
<line x1="1192.4" y1="387.65" x2="1195.4" y2="387.65"/>
<line x1="1192.4" y1="336.10" x2="1197.4" y2="336.10"/>
<line x1="1192.4" y1="284.55" x2="1195.4" y2="284.55"/>
<line x1="1192.4" y1="233.00" x2="1197.4" y2="233.00"/>
<line x1="1192.4" y1="181.45" x2="1195.4" y2="181.45"/>
<line x1="1192.4" y1="129.90" x2="1197.4" y2="129.90"/>
<line x1="1192.4" y1="78.35" x2="1195.4" y2="78.35"/>
<line x1="1212.00" y1="443.6" x2="1212.00" y2="437.6"/>
<line x1="1273.00" y1="443.6" x2="1273.00" y2="440.1"/>
<line x1="1334.00" y1="443.6" x2="1334.00" y2="437.6"/>
<line x1="1395.00" y1="443.6" x2="1395.00" y2="440.1"/>
<line x1="1456.00" y1="443.6" x2="1456.00" y2="437.6"/>
<line x1="1517.00" y1="443.6" x2="1517.00" y2="440.1"/>
<line x1="1578.00" y1="443.6" x2="1578.00" y2="437.6"/>
<line x1="1639.00" y1="443.6" x2="1639.00" y2="440.1"/>
</g></g>
<text font-size="23.9" text-anchor="end"><tspan x="1164.9" y="446.95" font-size="26.77">−</tspan><tspan x="1187.0" y="446.2">10</tspan></text>
<text x="1187.0" y="343.1" font-size="23.9" text-anchor="end">0</text>
<text x="1187.0" y="240.0" font-size="23.9" text-anchor="end">10</text>
<text x="1187.0" y="136.9" font-size="23.9" text-anchor="end">20</text>
<text font-size="23.9" text-anchor="end"><tspan x="1196.4" y="469.35" font-size="26.77">−</tspan><tspan x="1243.6" y="468.6">1000</tspan></text>
<text font-size="23.9" text-anchor="end"><tspan x="1324.15" y="469.35" font-size="26.77">−</tspan><tspan x="1359.4" y="468.6">500</tspan></text>
<text x="1463.4" y="468.6" font-size="23.9" text-anchor="end">0</text>
<text x="1597.8" y="468.6" font-size="23.9" text-anchor="end">500</text>
<text transform="translate(1446,498.8) scale(1.0,1.04)" font-size="36" text-anchor="middle">Class Interval</text>
<text transform="translate(1143.6,259.0) rotate(-90) scale(1.0,1.03)" font-size="37.0" text-anchor="middle">Frequency</text>
</g>
<g id="zoombox" fill="none" stroke="#FF0000" stroke-width="4.6">
<line x1="1253.3" y1="299.6" x2="1618.3" y2="299.6" stroke-dasharray="27.2 11 6.5 11"/>
<line x1="1624.3" y1="301.6" x2="1624.3" y2="517.5" stroke-dasharray="6.8 11.6 27.4 11.6" stroke-dashoffset="0"/>
<line x1="1609.8" y1="515.2" x2="1263.6" y2="515.2" stroke-dasharray="7.4 10.4 27.6 10.6"/>
<line x1="1255.6" y1="297.3" x2="1255.6" y2="517.5" stroke-dasharray="29 12 6.2 9.8"/>
</g>
<g id="arrow"><line x1="1280.8" y1="1172.8" x2="1455.4" y2="543" stroke="#000" stroke-width="3.5"/>
<polygon points="1462.4,517.6 1461.6,554 1444.4,549.2" fill="#000"/></g>
</g></svg></body></html>
